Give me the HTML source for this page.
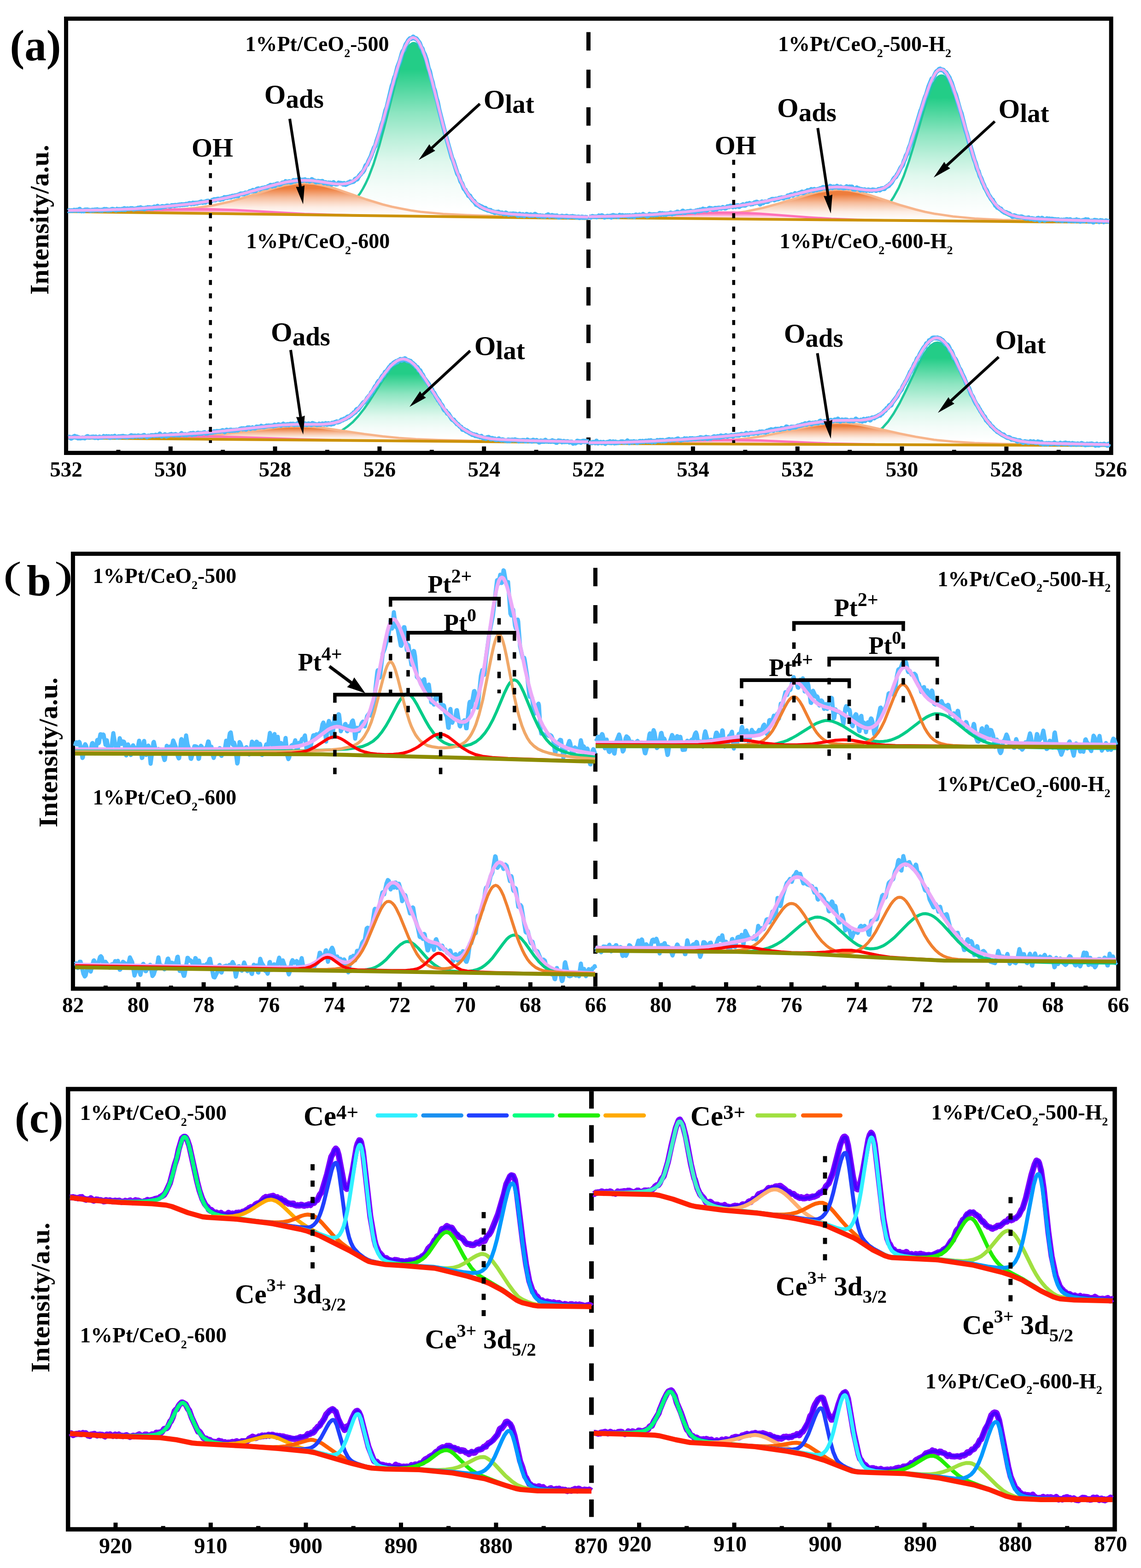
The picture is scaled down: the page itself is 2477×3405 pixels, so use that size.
<!DOCTYPE html><html><head><meta charset="utf-8"><title>XPS spectra</title><style>html,body{margin:0;padding:0;background:#fff;}svg{display:block;}</style></head><body><svg width="2477" height="3405" viewBox="0 0 2477 3405" font-family="'Liberation Serif', 'Times New Roman', serif" font-weight="bold"><defs><linearGradient id="gG" x1="0" y1="0" x2="0" y2="1"><stop offset="0.00" stop-color="#23cd87"/><stop offset="0.15" stop-color="#23cd87"/><stop offset="0.40" stop-color="#8de5c1"/><stop offset="0.55" stop-color="#bdf0db"/><stop offset="0.68" stop-color="#e0f8ee"/><stop offset="0.82" stop-color="#f4fcf9"/><stop offset="0.95" stop-color="#ffffff"/></linearGradient><linearGradient id="gO" x1="0" y1="0" x2="0" y2="1"><stop offset="0.00" stop-color="#ee7d3c"/><stop offset="0.15" stop-color="#ee7d3c"/><stop offset="0.40" stop-color="#f6bb9a"/><stop offset="0.55" stop-color="#fad8c4"/><stop offset="0.68" stop-color="#fdede4"/><stop offset="0.82" stop-color="#fef8f5"/><stop offset="0.95" stop-color="#ffffff"/></linearGradient><linearGradient id="gP" x1="0" y1="0" x2="0" y2="1"><stop offset="0.00" stop-color="#ff78b9"/><stop offset="0.15" stop-color="#ff78b9"/><stop offset="0.40" stop-color="#ffb9db"/><stop offset="0.55" stop-color="#ffd6ea"/><stop offset="0.68" stop-color="#ffecf5"/><stop offset="0.82" stop-color="#fff8fc"/><stop offset="0.95" stop-color="#ffffff"/></linearGradient></defs><rect width="100%" height="100%" fill="#fff"/><rect x="143.5" y="40.5" width="2268.7" height="943.0" fill="none" stroke="#000" stroke-width="9"/>
<rect x="365.8" y="969.5" width="9.0" height="11.5" fill="#000"/>
<rect x="592.6" y="969.5" width="9.0" height="11.5" fill="#000"/>
<rect x="819.4" y="969.5" width="9.0" height="11.5" fill="#000"/>
<rect x="1046.2" y="969.5" width="9.0" height="11.5" fill="#000"/>
<rect x="252.4" y="976.8" width="9.0" height="4.2" fill="#000"/>
<rect x="479.2" y="976.8" width="9.0" height="4.2" fill="#000"/>
<rect x="706.0" y="976.8" width="9.0" height="4.2" fill="#000"/>
<rect x="932.8" y="976.8" width="9.0" height="4.2" fill="#000"/>
<rect x="1159.6" y="976.8" width="9.0" height="4.2" fill="#000"/>
<rect x="1499.9" y="969.5" width="9.0" height="11.5" fill="#000"/>
<rect x="1726.7" y="969.5" width="9.0" height="11.5" fill="#000"/>
<rect x="1953.5" y="969.5" width="9.0" height="11.5" fill="#000"/>
<rect x="2180.3" y="969.5" width="9.0" height="11.5" fill="#000"/>
<rect x="1613.3" y="976.8" width="9.0" height="4.2" fill="#000"/>
<rect x="1840.1" y="976.8" width="9.0" height="4.2" fill="#000"/>
<rect x="2066.9" y="976.8" width="9.0" height="4.2" fill="#000"/>
<rect x="2293.7" y="976.8" width="9.0" height="4.2" fill="#000"/>
<text x="143.5" y="1035.0" font-size="47" text-anchor="middle" >532</text>
<text x="370.3" y="1035.0" font-size="47" text-anchor="middle" >530</text>
<text x="597.1" y="1035.0" font-size="47" text-anchor="middle" >528</text>
<text x="823.9" y="1035.0" font-size="47" text-anchor="middle" >526</text>
<text x="1050.7" y="1035.0" font-size="47" text-anchor="middle" >524</text>
<text x="1277.5" y="1035.0" font-size="47" text-anchor="middle" >522</text>
<text x="1504.4" y="1035.0" font-size="47" text-anchor="middle" >534</text>
<text x="1731.2" y="1035.0" font-size="47" text-anchor="middle" >532</text>
<text x="1958.0" y="1035.0" font-size="47" text-anchor="middle" >530</text>
<text x="2184.8" y="1035.0" font-size="47" text-anchor="middle" >528</text>
<text x="2411.6" y="1035.0" font-size="47" text-anchor="middle" >526</text>
<rect x="1273.0" y="69.7" width="9.0" height="40.0" fill="#000"/>
<rect x="1273.0" y="151.3" width="9.0" height="40.0" fill="#000"/>
<rect x="1273.0" y="232.9" width="9.0" height="40.0" fill="#000"/>
<rect x="1273.0" y="314.5" width="9.0" height="40.0" fill="#000"/>
<rect x="1273.0" y="396.1" width="9.0" height="40.0" fill="#000"/>
<rect x="1273.0" y="477.7" width="9.0" height="40.0" fill="#000"/>
<rect x="1273.0" y="541.9" width="9.0" height="40.0" fill="#000"/>
<rect x="1273.0" y="623.5" width="9.0" height="40.0" fill="#000"/>
<rect x="1273.0" y="705.1" width="9.0" height="40.0" fill="#000"/>
<rect x="1273.0" y="786.7" width="9.0" height="40.0" fill="#000"/>
<rect x="1273.0" y="868.3" width="9.0" height="40.0" fill="#000"/>
<rect x="1273.0" y="949.9" width="9.0" height="29.1" fill="#000"/>
<text transform="translate(105.3,477.2) rotate(-90)" x="0" y="0" font-size="58" text-anchor="middle">Intensity/a.u.</text>
<text x="21.5" y="131.0" font-size="95" text-anchor="start" >(a)</text>
<path d="M148,459 481,462.5 577,463 647,462.5 687,461.5 713,459.5 732,456.5 740,454 748,450.5 756,446 763,441 770,434.5 776,427.5 782,419.5 788,409.5 794,398 800,385 811,356 823,317.5 834,277 859,178.5 866,153.5 872,134.5 879,116 885,104.5 889,98.5 892,96 895,94 898,93.5 901,94 904,96 907,99 911,104.5 918,119 925,138 938,183.5 961,274.5 971,312 981,346 991,375 1000,396.5 1009,414.5 1018,428 1028,440 1039,449.5 1045,453 1052,456.5 1067,461.5 1086,465 1110,467.5 1147,469.5 1277,473 1277,474.5 148,459.5Z" fill="url(#gG)" stroke="none"/>
<path d="M148,459 481,462.5 577,463 647,462.5 687,461.5 713,459.5 732,456.5 740,454 748,450.5 756,446 763,441 770,434.5 776,427.5 782,419.5 788,409.5 794,398 800,385 811,356 823,317.5 834,277 859,178.5 866,153.5 872,134.5 879,116 885,104.5 889,98.5 892,96 895,94 898,93.5 901,94 904,96 907,99 911,104.5 918,119 925,138 938,183.5 961,274.5 971,312 981,346 991,375 1000,396.5 1009,414.5 1018,428 1028,440 1039,449.5 1045,453 1052,456.5 1067,461.5 1086,465 1110,467.5 1147,469.5 1277,473" fill="none" stroke="#1ec99a" stroke-width="5" stroke-linejoin="round" />
<path d="M148,457.5 259,458 329,457.5 382,455.5 425,451.5 463,446 499,438 531,429 593,409 617,402.5 640,398.5 651,397.5 662,397.5 683,399 705,403.5 729,410 795,433 831,444 851,449 871,453 892,457 913,460 962,464.5 1025,467.5 1120,470.5 1277,473.5 1277,474.5 148,459.5Z" fill="url(#gO)" stroke="none"/>
<path d="M148,457.5 259,458 329,457.5 382,455.5 425,451.5 463,446 499,438 531,429 593,409 617,402.5 640,398.5 651,397.5 662,397.5 683,399 705,403.5 729,410 795,433 831,444 851,449 871,453 892,457 913,460 962,464.5 1025,467.5 1120,470.5 1277,473.5" fill="none" stroke="#f7b48a" stroke-width="5" stroke-linejoin="round" />
<path d="M148,459 242,458.5 389,454.5 450,454 510,456 661,464.5 762,467.5 762,467.5 148,459.5Z" fill="url(#gP)" stroke="none"/>
<path d="M148,459 242,458.5 389,454.5 450,454 510,456 661,464.5 762,467.5" fill="none" stroke="#ff72b8" stroke-width="5" stroke-linejoin="round" />
<path d="M148,459.5 1277,474.5" fill="none" stroke="#cc9206" stroke-width="6" stroke-linejoin="round" />
<path d="M148,457.5 149,458 150,457 153,457.5 155,457 156,457.5 158,457.5 161,456 162,457 164,457 166,456 168,456.5 170,458 172,454.5 173,454 177,458.5 178,457.5 180,457 182,458.5 184,456 185,455.5 187,456 188,455.5 190,455.5 193,456.5 195,456.5 197,457.5 200,456 201,457 202,456 203,457 206,455.5 207,455.5 208,456.5 211,455 214,456.5 216,456 218,457 220,456 222,457 225,455 226,454.5 227,456 228,456 230,454.5 231,454.5 232,456 233,456.5 235,455.5 237,456.5 240,455.5 241,456 242,454.5 244,454 246,455 247,454.5 248,455.5 249,455.5 252,456.5 254,454 257,455.5 258,454.5 259,454.5 260,455.5 262,455.5 263,454.5 264,454.5 265,454 267,455.5 268,455 269,453 270,452.5 271,455 272,455.5 274,453.5 276,453.5 277,453 278,454 280,454 284,452.5 285,453 287,452.5 290,454.5 292,453.5 295,453.5 296,453 299,452.5 300,451.5 301,451.5 302,453 304,453 305,450.5 308,453 310,452 313,454 315,453 316,451.5 320,452 321,450.5 322,451 323,450.5 325,450.5 327,452.5 328,452.5 329,451 330,452 331,452.5 332,452.5 333,450 335,449 336,449.5 337,449.5 338,451 339,451.5 342,447.5 343,449.5 344,449.5 345,451 346,449.5 348,451 349,451 351,448.5 352,449 353,448 354,449.5 355,448.5 356,449 357,448.5 359,448.5 362,447 364,447 368,448 370,448 373,446 374,446.5 377,446 379,447 380,445.5 384,446 387,445 389,445.5 390,444.5 391,445.5 394,444 395,444 396,445 397,444.5 400,444 401,444.5 404,443 406,444 411,441.5 414,442 415,443 419,440.5 420,442.5 421,441.5 422,442.5 423,441 424,441.5 426,440.5 428,441.5 431,440 434,440 435,438.5 437,438 438,439.5 439,439.5 440,440 442,439.5 443,438.5 446,439.5 448,437 450,436.5 452,436.5 453,437.5 455,437.5 457,437 458,437.5 461,434.5 464,434 465,433 466,434.5 468,434.5 469,433 474,432 478,433.5 479,433 480,431.5 482,431 484,432.5 485,430.5 486,430.5 487,428.5 488,430 489,429 491,428.5 492,429.5 493,429.5 495,428 497,428.5 499,427 500,427 501,428.5 502,427.5 503,427.5 504,426 505,426.5 506,425.5 507,426.5 508,426.5 511,424.5 513,425.5 516,423.5 517,425.5 519,422.5 523,420.5 524,421.5 526,421.5 527,420.5 528,421.5 529,421 530,421.5 531,419.5 533,418.5 535,419.5 537,418.5 539,418 542,415.5 546,415.5 547,414 548,414 549,413 550,415 551,414 552,414.5 553,413.5 554,414 555,414.5 557,411 559,410 560,411 561,409.5 562,410.5 564,411 569,408.5 573,408 576,407 577,407.5 578,407 579,407.5 580,406.5 581,406.5 582,404.5 584,404.5 587,402 588,402 591,404.5 594,401.5 595,401.5 596,403 597,403.5 600,399.5 602,399 603,399 604,400 606,400.5 609,400 613,397 617,396.5 619,395.5 620,394 623,395.5 628,394 631,396 632,395.5 633,395.5 635,394.5 637,391.5 638,391.5 640,393.5 641,393.5 642,392.5 643,392.5 644,391 646,391 648,392.5 649,391.5 650,391.5 651,389.5 652,391 653,391 654,392 655,391.5 656,392.5 658,390.5 659,391.5 661,391 662,390 665,392.5 666,391.5 667,392 669,391.5 672,393.5 675,392 677,389.5 681,392.5 683,392.5 685,395 686,395.5 689,393.5 690,394 691,393.5 692,395 695,394 697,394.5 699,393.5 700,393.5 703,397.5 707,396 710,398.5 713,397 714,398.5 715,398.5 717,397 719,400 720,400.5 724,396 727,399.5 729,400 733,399.5 735,397 736,397.5 739,397.5 740,398.5 742,398 745,400.5 747,398 748,398.5 749,400 750,401 754,399 755,397 756,396.5 757,397.5 759,397 760,394.5 763,395.5 767,394.5 769,393 771,389 773,388 774,389.5 775,389.5 776,388.5 777,386 781,380 783,378.5 784,376.5 787,374 790,370 794,359.5 795,358.5 797,357.5 798,355.5 800,350 805,340 807,334.5 808,330.5 809,329.5 812,321 815,316.5 818,305 824,287.5 829,269.5 832,262 837,240 840,232.5 851,186 853,181.5 855,172.5 857,166.5 858,165.5 863,145.5 868,132.5 873,114.5 874,112 877,108 881,96.5 885,90.5 886,88 890,83.5 892,83.5 893,84 897,80 900,83.5 902,83 904,84 911,93.5 914,102 917,106 919,113 922,118.5 926,130 930,147.5 933,155 936,169.5 939,179 941,189.5 944,197.5 947,212 950,221.5 953,237 968,296 981,342.5 984,349 993,377.5 995,380.5 996,381 1000,394 1003,398.5 1007,409.5 1009,412 1010,412 1012,416.5 1015,420.5 1017,425 1018,425.5 1020,425 1023,431 1024,431.5 1026,435 1029,436.5 1034,444.5 1035,443.5 1038,446.5 1039,445.5 1040,446 1041,448 1043,450 1044,448 1045,449 1046,449 1049,451 1051,453.5 1053,453.5 1054,452 1058,456.5 1059,456.5 1060,457 1061,456 1062,457 1064,457.5 1065,456.5 1066,458.5 1068,459.5 1071,459.5 1074,462 1077,460.5 1079,461 1082,460 1085,463 1086,462 1087,462.5 1090,462 1092,464 1095,465 1096,465 1098,462 1104,466 1105,465 1106,465.5 1107,464.5 1110,464.5 1111,465.5 1112,464.5 1113,465 1114,464 1115,464.5 1117,464.5 1118,465 1119,464.5 1121,465 1123,467.5 1124,467 1125,468 1127,466.5 1128,464.5 1131,468 1133,467.5 1135,465.5 1138,469 1139,467.5 1141,466.5 1142,466.5 1143,465 1145,465.5 1146,467 1148,468 1150,468.5 1151,466.5 1152,466 1155,468 1156,467 1158,468 1161,465 1162,465 1165,468 1166,467.5 1167,469 1168,469 1169,469.5 1170,468.5 1173,468 1176,470 1178,468.5 1181,470 1182,469.5 1183,470.5 1186,467.5 1187,468 1188,467 1189,467.5 1190,466 1191,467.5 1192,468 1193,470 1194,469 1195,469.5 1196,468.5 1197,468.5 1198,467.5 1199,467.5 1201,469.5 1203,468.5 1204,468.5 1206,470.5 1207,469 1208,469.5 1209,468.5 1211,470 1212,472 1213,472 1214,472 1216,470 1219,470.5 1220,469 1223,470 1224,470 1227,471 1228,469.5 1230,469 1231,470.5 1232,471 1233,472 1234,470.5 1235,471 1236,470.5 1237,471 1239,470 1240,470.5 1243,469.5 1245,471 1248,470.5 1251,472 1252,471.5 1253,472 1254,471 1255,471.5 1256,471 1257,472.5 1258,473 1263,471 1264,471 1265,472.5 1266,471.5 1269,472.5 1271,471.5 1274,472.5 1275,472 1277,471.5" fill="none" stroke="#4cb8f8" stroke-width="10" stroke-linejoin="round" />
<path d="M148,457 225,456 292,453.5 358,448.5 417,442.5 456,436.5 492,429.5 528,420.5 603,399.5 623,395 641,392.5 658,391.5 676,392 692,394 724,399 738,400 745,399.5 752,398.5 758,397 764,394.5 770,391 775,387 781,381 786,375 796,359 806,338 816,311.5 826,280.5 836,245.5 859,160 871,121.5 878,103.5 885,90.5 888,86.5 891,84 894,82 897,81.5 900,82.5 903,84 906,87 910,92.5 917,107 924,126.5 937,172 961,268.5 971,306.5 981,341 990,367.5 999,390 1008,408.5 1018,424.5 1028,436.5 1039,446 1045,450 1052,453.5 1067,458.5 1086,462.5 1111,465 1149,467.5 1277,471.5" fill="none" stroke="#eeaaf5" stroke-width="6" stroke-linejoin="round" />
<path d="M1278,472.5 1628,475 1797,474.5 1840,474 1866,472 1885,469.5 1900,464.5 1908,461 1915,456.5 1922,450.5 1928,444.5 1934,437 1940,428 1951,408 1962,382 1973,350.5 1983,318 2007,234.5 2019,199 2026,182.5 2032,172.5 2035,168.5 2038,166 2041,164.5 2044,164 2047,164.5 2050,166 2056,172.5 2063,185 2070,202 2082,238.5 2113,345.5 2123,375.5 2132,398.5 2140,416 2149,432 2158,444.5 2168,454.5 2179,463 2191,468.5 2205,472.5 2223,475.5 2246,477.5 2282,479 2408,482 2408,483 1278,472.5Z" fill="url(#gG)" stroke="none"/>
<path d="M1278,472.5 1628,475 1797,474.5 1840,474 1866,472 1885,469.5 1900,464.5 1908,461 1915,456.5 1922,450.5 1928,444.5 1934,437 1940,428 1951,408 1962,382 1973,350.5 1983,318 2007,234.5 2019,199 2026,182.5 2032,172.5 2035,168.5 2038,166 2041,164.5 2044,164 2047,164.5 2050,166 2056,172.5 2063,185 2070,202 2082,238.5 2113,345.5 2123,375.5 2132,398.5 2140,416 2149,432 2158,444.5 2168,454.5 2179,463 2191,468.5 2205,472.5 2223,475.5 2246,477.5 2282,479 2408,482" fill="none" stroke="#1ec99a" stroke-width="5" stroke-linejoin="round" />
<path d="M1278,471 1402,471.5 1479,470.5 1534,468.5 1579,465 1618,459.5 1656,451.5 1689,442.5 1753,423 1777,416.5 1800,413 1821,411.5 1842,413 1865,417.5 1889,424 1953,445 1988,455 2008,460 2028,464 2069,470 2116,474.5 2176,477.5 2263,479.5 2408,482 2408,483 1278,472.5Z" fill="url(#gO)" stroke="none"/>
<path d="M1278,471 1402,471.5 1479,470.5 1534,468.5 1579,465 1618,459.5 1656,451.5 1689,442.5 1753,423 1777,416.5 1800,413 1821,411.5 1842,413 1865,417.5 1889,424 1953,445 1988,455 2008,460 2028,464 2069,470 2116,474.5 2176,477.5 2263,479.5 2408,482" fill="none" stroke="#f7b48a" stroke-width="5" stroke-linejoin="round" />
<path d="M1278,472.5 1332,472 1379,470.5 1425,468.5 1530,462.5 1561,461.5 1590,461.5 1619,462.5 1650,464 1756,472 1805,475 1857,477 1919,478.5 1919,478.5 1278,472.5Z" fill="url(#gP)" stroke="none"/>
<path d="M1278,472.5 1332,472 1379,470.5 1425,468.5 1530,462.5 1561,461.5 1590,461.5 1619,462.5 1650,464 1756,472 1805,475 1857,477 1919,478.5" fill="none" stroke="#ff72b8" stroke-width="5" stroke-linejoin="round" />
<path d="M1278,472.5 2408,483" fill="none" stroke="#cc9206" stroke-width="6" stroke-linejoin="round" />
<path d="M1278,470 1283,472 1286,469.5 1290,470.5 1291,471 1294,470.5 1295,471.5 1297,471 1300,468.5 1301,469.5 1302,469.5 1303,470.5 1304,469 1305,469.5 1306,468 1307,468 1310,470 1311,470 1312,472 1313,471 1314,471.5 1315,471 1316,471 1317,469.5 1318,469.5 1319,469 1320,469.5 1321,469.5 1322,471 1325,469 1327,472 1329,470.5 1330,467.5 1331,468.5 1332,467.5 1333,470 1335,470.5 1336,469 1337,468.5 1342,471 1345,467 1347,469 1348,469 1351,467.5 1354,469 1358,468 1360,469 1362,468 1363,468 1364,470 1366,469 1367,468 1370,470 1372,469 1373,468 1374,468 1377,471 1380,466.5 1381,466.5 1385,468.5 1388,466.5 1390,468 1394,467.5 1396,465 1399,467.5 1402,467.5 1405,469.5 1407,469 1410,465 1414,467 1415,466 1416,467 1420,465.5 1421,467 1422,466 1423,466 1424,465.5 1425,466.5 1427,466.5 1432,463 1433,463 1435,466 1438,463.5 1441,466 1442,464 1444,464 1445,466 1446,466 1448,464 1451,464 1452,463.5 1453,464 1454,463.5 1455,463.5 1456,462 1459,465 1460,464.5 1461,463 1463,463 1464,464 1466,462 1469,462 1470,460 1471,460 1472,460.5 1473,462 1477,461.5 1478,462 1479,460.5 1482,458 1483,458 1485,461.5 1487,462 1490,460 1491,459.5 1492,460 1493,459 1494,459.5 1495,459 1496,460 1497,458.5 1499,458 1500,459 1501,458.5 1502,459.5 1504,459.5 1506,459 1509,460.5 1511,457.5 1513,458 1515,456.5 1516,457 1517,458.5 1518,457.5 1519,457 1520,455.5 1521,457.5 1523,457.5 1526,453.5 1529,456 1531,454.5 1532,455 1534,457 1535,456 1536,455.5 1537,454.5 1538,454 1539,452.5 1540,452 1541,453.5 1544,452.5 1545,454 1547,455 1548,453.5 1549,455.5 1550,454 1551,454.5 1552,452 1553,453 1554,452 1555,454.5 1556,454.5 1558,452 1559,451.5 1560,452.5 1561,451.5 1566,452.5 1569,450 1572,451.5 1573,451.5 1574,452.5 1576,452 1577,450.5 1579,448.5 1580,448.5 1581,449.5 1582,448.5 1583,449.5 1584,447.5 1586,447 1587,448 1589,448 1591,449.5 1594,447 1597,449 1599,446.5 1600,447 1602,446 1603,447 1604,449 1605,449 1606,447.5 1607,447.5 1610,445.5 1612,446 1613,444 1616,446 1617,445.5 1618,446 1620,444.5 1621,442.5 1624,443 1626,442.5 1627,441.5 1630,443.5 1632,442.5 1634,443 1638,440 1639,441 1640,441 1642,438.5 1643,438.5 1644,440 1647,440 1650,443.5 1651,443 1653,439 1654,438 1655,439.5 1657,440.5 1658,439 1661,438 1667,438 1670,435 1673,434.5 1676,432.5 1679,432.5 1681,434.5 1682,434 1684,432 1685,433 1686,432 1687,432.5 1689,431.5 1690,432 1691,430.5 1692,431 1693,430 1696,429.5 1697,429 1699,429.5 1700,430.5 1701,430.5 1702,429 1708,428 1710,425 1712,427.5 1715,423.5 1717,423.5 1718,422.5 1720,423 1721,424.5 1725,421.5 1726,420 1729,421.5 1732,421.5 1734,419.5 1737,419 1738,418 1739,418.5 1741,416.5 1743,419 1744,419 1745,417.5 1748,417 1749,416 1752,415 1753,413.5 1755,413.5 1756,415 1760,413 1761,411 1763,411.5 1765,414 1766,414 1768,411 1769,411.5 1770,411.5 1772,412 1773,412.5 1774,411.5 1777,410.5 1778,411 1779,410 1780,411 1781,409 1783,410 1784,409.5 1786,407 1787,406.5 1789,407 1791,408.5 1792,408 1793,408 1794,407 1796,409.5 1798,410 1801,405 1802,404 1804,405 1805,406.5 1807,408 1810,405.5 1812,406.5 1814,406.5 1817,404 1818,406 1820,407.5 1822,407.5 1825,405.5 1828,407.5 1830,407.5 1831,408.5 1834,407 1835,408 1836,406.5 1838,405 1840,407 1842,408 1844,405.5 1845,405.5 1846,407 1847,407 1849,405.5 1850,406 1852,411 1853,411 1855,410.5 1856,411.5 1860,407.5 1862,409.5 1865,409.5 1866,411.5 1868,413 1870,411 1875,413 1877,411.5 1881,414 1885,412 1887,412.5 1888,414 1890,413 1891,413.5 1893,414 1894,412 1900,413 1902,414 1905,412.5 1906,412.5 1907,411 1909,411 1910,413 1911,412.5 1912,411.5 1913,409.5 1915,409.5 1916,410 1917,409 1918,410 1919,409.5 1920,410 1923,406.5 1925,405.5 1927,403.5 1928,404 1930,403 1931,400.5 1932,400.5 1933,398.5 1934,398.5 1936,396 1940,388.5 1942,386 1945,384 1948,378 1949,377.5 1955,365 1960,358 1962,351 1963,348 1964,347 1967,337.5 1968,336.5 1969,334 1970,333.5 1973,322 1977,312 1980,300.5 1986,283 1999,239.5 2000,238 2008,212 2011,205 2016,188 2023,171 2024,171 2026,169.5 2031,158.5 2033,155.5 2036,153.5 2039,150 2040,150.5 2041,149.5 2043,152 2046,151.5 2048,152 2051,157 2052,156.5 2054,157.5 2056,161.5 2059,165.5 2060,168 2061,168.5 2062,172 2066,180.5 2071,197 2075,206 2084,238.5 2087,246 2096,282.5 2099,291 2105,314 2106,315.5 2115,346.5 2118,354 2121,365.5 2123,370.5 2124,371.5 2127,382 2130,387.5 2133,396 2136,402 2138,408 2142,413.5 2146,423 2149,427 2152,432.5 2155,434 2156,437 2159,441.5 2161,446.5 2162,446 2163,447 2165,450.5 2166,451 2167,450 2169,452 2170,453.5 2173,453.5 2176,458.5 2178,459 2180,461 2183,461.5 2184,461 2185,462 2186,462 2187,463.5 2188,463 2190,464.5 2191,464 2198,470.5 2199,470.5 2201,468 2202,468 2203,469.5 2205,469 2207,470.5 2209,471 2210,470.5 2214,471.5 2216,470.5 2218,470.5 2222,472.5 2224,473 2225,474 2227,473.5 2229,474.5 2231,473 2233,472.5 2234,474.5 2235,474.5 2236,475.5 2237,474.5 2238,475 2240,474 2243,476 2244,475 2247,477 2250,476 2252,474 2254,473.5 2255,476.5 2257,479 2258,477 2259,477.5 2262,473.5 2265,475.5 2266,477.5 2268,478.5 2273,474.5 2274,475 2275,476.5 2278,475 2280,476.5 2282,476.5 2283,475.5 2286,476 2287,476 2289,477 2290,476.5 2292,476.5 2293,478 2294,478.5 2295,478.5 2297,476.5 2301,478.5 2304,477.5 2305,479 2306,479.5 2307,479.5 2309,477.5 2311,477.5 2313,478.5 2315,476.5 2317,476.5 2320,480 2321,480 2323,476.5 2324,477 2326,479 2328,478.5 2329,479.5 2330,478.5 2332,478 2333,479.5 2334,480 2337,477 2340,479.5 2342,478 2344,479.5 2345,481 2348,479 2350,480 2351,478.5 2352,478 2353,478.5 2354,480 2355,478 2356,478 2357,476.5 2358,477.5 2360,478.5 2362,477 2364,481 2367,480 2368,480.5 2370,479.5 2372,480.5 2373,482.5 2374,482.5 2376,478 2377,478 2378,479.5 2381,478.5 2382,479.5 2383,479.5 2386,482 2389,478.5 2392,479.5 2393,479 2396,482 2401,479 2403,480.5 2405,480 2407,481 2408,481" fill="none" stroke="#4cb8f8" stroke-width="10" stroke-linejoin="round" />
<path d="M1278,470.5 1353,469 1418,466 1489,460 1576,450.5 1620,444.5 1657,438 1692,430.5 1763,413 1782,409.5 1799,407 1816,406 1833,406.5 1849,408.5 1879,412.5 1892,413.5 1905,412.5 1916,409.5 1922,406.5 1927,403 1932,399 1937,393.5 1947,380 1956,363.5 1965,343.5 1975,316.5 1985,286 2007,215 2019,181.5 2025,168.5 2031,158.5 2034,155 2037,152.5 2040,151 2043,150.5 2046,151.5 2049,153 2052,156 2056,161 2062,172.5 2069,189.5 2081,226.5 2113,339.5 2123,369.5 2132,393 2140,411 2149,427.5 2158,440 2168,451 2179,459 2191,465.5 2206,470 2224,473 2248,475 2285,477 2408,480.5" fill="none" stroke="#eeaaf5" stroke-width="6" stroke-linejoin="round" />
<path d="M186,951 473,953 621,953 654,952.5 678,951.5 696,949.5 712,946.5 727,942 741,935.5 754,926.5 766,916.5 778,903.5 791,887 803,869.5 832,824 846,805.5 854,796.5 862,790.5 870,786.5 877,785.5 884,786.5 892,790.5 900,797 908,806 923,826.5 961,885.5 972,900.5 983,913 993,923 1003,931 1013,937.5 1024,943 1037,948 1051,951.5 1067,954 1087,956 1146,958 1277,960 1277,961 186,951.5Z" fill="url(#gG)" stroke="none"/>
<path d="M186,951 473,953 621,953 654,952.5 678,951.5 696,949.5 712,946.5 727,942 741,935.5 754,926.5 766,916.5 778,903.5 791,887 803,869.5 832,824 846,805.5 854,796.5 862,790.5 870,786.5 877,785.5 884,786.5 892,790.5 900,797 908,806 923,826.5 961,885.5 972,900.5 983,913 993,923 1003,931 1013,937.5 1024,943 1037,948 1051,951.5 1067,954 1087,956 1146,958 1277,960" fill="none" stroke="#1ec99a" stroke-width="5" stroke-linejoin="round" />
<path d="M148,950 321,950.5 372,949.5 415,948 452,946 488,942.5 605,927.5 628,926 650,925.5 674,926.5 700,929 791,942.5 831,947.5 866,951 903,953.5 953,955.5 1017,957 1277,960.5 1277,961 148,951Z" fill="url(#gO)" stroke="none"/>
<path d="M148,950 321,950.5 372,949.5 415,948 452,946 488,942.5 605,927.5 628,926 650,925.5 674,926.5 700,929 791,942.5 831,947.5 866,951 903,953.5 953,955.5 1017,957 1277,960.5" fill="none" stroke="#f7b48a" stroke-width="5" stroke-linejoin="round" />
<path d="M159,951 244,950.5 389,948 450,947.5 511,949 656,954 741,956 741,956.5 159,951Z" fill="url(#gP)" stroke="none"/>
<path d="M159,951 244,950.5 389,948 450,947.5 511,949 656,954 741,956" fill="none" stroke="#ff72b8" stroke-width="5" stroke-linejoin="round" />
<path d="M148,951 1277,961" fill="none" stroke="#cc9206" stroke-width="6" stroke-linejoin="round" />
<path d="M148,949.5 151,949 154,952 155,952 158,949 159,950 160,948.5 161,949 162,947 163,948.5 165,950 166,948.5 167,948.5 169,951.5 170,951.5 171,950 174,951.5 180,950.5 184,951.5 187,949 188,949.5 189,948 190,947.5 191,948 193,950 195,950 198,949 203,948.5 204,949 205,950.5 207,950.5 208,948.5 209,950 210,949.5 211,950 212,950 213,951 216,948.5 217,950 222,950 225,947.5 226,948.5 228,949 230,948.5 231,947.5 234,949 236,948 237,949.5 239,950.5 242,948 243,949 244,948.5 245,949 246,948 247,949 249,947 252,949.5 253,949.5 254,950 255,950 257,948 259,948 260,949.5 261,948.5 262,949 263,947.5 266,948 267,947 268,948.5 269,947.5 270,948.5 271,948 272,949 273,948 276,949.5 278,948.5 279,948.5 280,948 281,948.5 283,947.5 284,946 285,945.5 286,946 287,948.5 288,948.5 289,948.5 290,946.5 294,946.5 296,948 300,946 302,946.5 303,948 306,947 308,948 310,946 313,945 315,947 318,947.5 319,949 322,946.5 325,947.5 327,947 328,945.5 330,945.5 333,945.5 335,946.5 336,946 337,946 338,944.5 339,945.5 340,945 341,946 343,945 344,945.5 345,944 346,943.5 347,942 350,947 351,947.5 353,945.5 356,946 358,943.5 361,947.5 363,945 364,945 366,946 367,944.5 369,943.5 371,944 372,943 374,944.5 377,944 378,945 381,943 384,944.5 390,945 394,941 397,943.5 400,944.5 402,943 405,944.5 407,943.5 409,943.5 410,942.5 412,943 414,941 416,943.5 417,944 418,941.5 419,940.5 420,940.5 422,943 423,942.5 425,943 428,940.5 429,941 430,940 433,941.5 435,940.5 436,941.5 437,941 438,941.5 439,940.5 444,939 447,941.5 448,941 450,941 452,940.5 455,938 456,938 457,939.5 459,939.5 460,938.5 462,939 464,938.5 465,937 466,938 467,937.5 468,938 470,936.5 472,936.5 473,937 477,936.5 478,937 480,936.5 481,935.5 482,935.5 483,934.5 484,935 485,935 486,937 488,938 491,935.5 492,933.5 494,935 496,934.5 498,935.5 499,935.5 500,933.5 501,934 502,933.5 503,934.5 504,935 506,935 507,934 508,934.5 509,934 510,935 511,934 513,933.5 516,934.5 521,931.5 525,930.5 527,932 529,930.5 534,932.5 535,932 536,929.5 538,928.5 539,929.5 541,928.5 543,930 544,931 548,928.5 549,929.5 554,930 555,928.5 556,928.5 557,927 558,927.5 559,927 560,927.5 561,927 562,927.5 564,927.5 565,927.5 567,925 569,927 571,927 572,926.5 573,927.5 574,926.5 576,926.5 577,925.5 579,924.5 580,925.5 583,924.5 586,925 592,924.5 593,925.5 595,924.5 596,922.5 597,924.5 598,923.5 599,924 600,923.5 602,923.5 604,922 605,922 607,923 609,923 610,924 615,920.5 617,922.5 618,922 621,923 622,922 624,921.5 625,922.5 627,923 629,921 631,920.5 632,921 633,921 635,921.5 636,920.5 637,922 638,921 639,922.5 641,922 643,921 645,922 647,919 648,919.5 649,921.5 650,922 652,920.5 654,922 655,921.5 656,920 658,920.5 659,922.5 660,920.5 661,921 662,920 666,922.5 667,922 668,920.5 670,920 672,921.5 673,921 676,922.5 678,919 680,919.5 681,921 682,920.5 684,921 688,922.5 689,922 692,922 693,920.5 696,922 697,921.5 699,921 700,920 702,920.5 704,921.5 707,919.5 709,921.5 710,922 711,920 713,919.5 714,921 715,920.5 717,920.5 718,921.5 719,921.5 721,918.5 722,918.5 724,920.5 726,918.5 727,917 729,917 731,915.5 733,917 736,916 739,914.5 741,912 742,911.5 743,912.5 744,912.5 747,909.5 748,910 749,909 750,909.5 751,908.5 752,908.5 753,906.5 755,905 757,906 761,902.5 762,902.5 764,900 767,898 768,896 769,895.5 770,896 772,894.5 773,890.5 775,888.5 776,890 777,890 789,874 790,874 791,873.5 795,869.5 797,865 798,863.5 799,863.5 801,860 804,857.5 806,852.5 809,849.5 814,840 815,838.5 816,838.5 818,835.5 819,832 822,827.5 825,826 826,825 827,821.5 828,820.5 829,818 831,815.5 832,816 834,813 836,808 839,806.5 845,797.5 848,794.5 849,792.5 852,791 853,791 854,788.5 855,788.5 856,787 857,788.5 860,784.5 862,786.5 863,785.5 864,783.5 865,782.5 867,782.5 869,780 871,780.5 872,782.5 874,781 875,780 876,781 878,780 879,778.5 881,780 882,782 883,781.5 884,783.5 885,782.5 886,783.5 887,783 888,784.5 889,784.5 891,784 894,788 895,788 897,789.5 898,791.5 900,792 903,796.5 904,796.5 906,797.5 908,801 909,804 912,804.5 916,813.5 917,813 919,817 920,820 931,834.5 932,837.5 935,841 937,845 938,846 939,849.5 941,852.5 942,852.5 947,862 950,866 951,869 952,870 953,869.5 956,876 960,880.5 963,888 965,891 968,892 971,898 972,897 974,899 981,910.5 984,912.5 985,911.5 988,916.5 989,916.5 992,921 994,921 998,926 1000,927 1001,927 1004,933 1005,933 1007,932 1012,936.5 1013,935 1014,936.5 1015,936.5 1016,938.5 1017,938 1020,941 1021,940.5 1022,941.5 1023,941.5 1024,943 1025,944 1026,944 1027,943.5 1029,943.5 1031,946 1032,946.5 1034,944.5 1037,947.5 1038,947 1042,949 1045,947 1047,950 1049,951.5 1050,950.5 1052,951 1054,952.5 1055,952.5 1056,952 1057,950 1059,949.5 1060,950.5 1061,949.5 1063,951 1065,953.5 1067,953.5 1068,951.5 1070,952 1071,953 1072,953 1073,953.5 1074,953 1075,954.5 1076,954 1077,955 1080,954.5 1083,952.5 1084,954.5 1089,956 1090,954.5 1091,954.5 1096,956.5 1099,956.5 1101,957.5 1103,955 1104,955 1105,957.5 1106,957.5 1107,957 1108,955.5 1110,956 1112,955 1113,955.5 1115,956 1118,954.5 1121,956 1124,956 1126,958 1128,956.5 1133,957 1134,956 1135,956.5 1136,956 1137,956.5 1138,956 1140,958 1142,958 1144,956.5 1145,955 1150,958 1152,957 1155,958.5 1156,956.5 1157,955.5 1158,955.5 1159,956.5 1162,958 1163,957.5 1164,957.5 1165,956 1168,958.5 1169,958 1170,960.5 1171,960.5 1172,960 1173,957.5 1174,957 1177,959 1179,957.5 1181,959 1184,955.5 1186,958.5 1188,958 1191,959 1192,958.5 1194,958.5 1195,958 1196,959 1199,956.5 1200,958.5 1202,959 1203,958 1204,958 1206,959 1207,961 1208,960.5 1209,961 1212,957 1213,957 1215,958 1217,957.5 1220,960 1222,958.5 1223,959 1224,958 1225,959.5 1226,959 1228,959 1229,959.5 1232,958.5 1236,960.5 1239,959.5 1240,960 1241,959.5 1243,961 1244,963 1245,961.5 1247,961 1249,962.5 1251,961.5 1253,957.5 1254,957.5 1256,960 1257,960 1258,958.5 1259,958.5 1260,959 1261,961 1264,958 1267,957.5 1268,959 1269,959.5 1271,957.5 1272,958 1273,959.5 1275,959.5 1276,958.5 1277,959" fill="none" stroke="#4cb8f8" stroke-width="10" stroke-linejoin="round" />
<path d="M148,949.5 212,949.5 267,948.5 321,946.5 376,944 428,941 474,937 583,925.5 610,923 643,921.5 701,921.5 715,920 727,918 739,914.5 750,909.5 761,902.5 772,893.5 783,882 794,868.5 805,853.5 832,815 846,797 854,789.5 862,783.5 869,780.5 876,779.5 883,781 891,785 899,791.5 907,800.5 922,821.5 949,865 961,883 972,898 983,911 993,921 1003,929.5 1013,936 1024,942 1037,946.5 1051,950 1067,953 1087,954.5 1148,957 1277,959.5" fill="none" stroke="#eeaaf5" stroke-width="6" stroke-linejoin="round" />
<path d="M1286,962.5 1610,963.5 1774,962.5 1812,962 1837,960.5 1857,958 1873,954.5 1881,952 1889,948.5 1896,945 1903,940 1916,929 1928,915.5 1940,898 1953,875.5 1965,851.5 1992,794.5 2006,769 2014,757.5 2021,750 2028,745.5 2032,744.5 2035,744 2038,744.5 2042,745.5 2049,750 2056,757.5 2064,769 2078,795 2115,872.5 2126,892.5 2136,908 2145,920 2154,930 2164,939 2174,946 2186,952 2199,956.5 2214,959.5 2233,962 2255,963.5 2287,964.5 2408,966.5 2408,967.5 1286,963Z" fill="url(#gG)" stroke="none"/>
<path d="M1286,962.5 1610,963.5 1774,962.5 1812,962 1837,960.5 1857,958 1873,954.5 1881,952 1889,948.5 1896,945 1903,940 1916,929 1928,915.5 1940,898 1953,875.5 1965,851.5 1992,794.5 2006,769 2014,757.5 2021,750 2028,745.5 2032,744.5 2035,744 2038,744.5 2042,745.5 2049,750 2056,757.5 2064,769 2078,795 2115,872.5 2126,892.5 2136,908 2145,920 2154,930 2164,939 2174,946 2186,952 2199,956.5 2214,959.5 2233,962 2255,963.5 2287,964.5 2408,966.5" fill="none" stroke="#1ec99a" stroke-width="5" stroke-linejoin="round" />
<path d="M1278,962 1402,961.5 1479,961 1534,959.5 1579,956.5 1618,952.5 1656,947 1689,940.5 1753,926 1777,922 1800,919 1821,918 1842,919 1865,922 1889,927 1953,941.5 1988,948.5 2028,955 2069,959 2116,962 2176,964 2263,965.5 2408,966.5 2408,967.5 1278,963Z" fill="url(#gO)" stroke="none"/>
<path d="M1278,962 1402,961.5 1479,961 1534,959.5 1579,956.5 1618,952.5 1656,947 1689,940.5 1753,926 1777,922 1800,919 1821,918 1842,919 1865,922 1889,927 1953,941.5 1988,948.5 2028,955 2069,959 2116,962 2176,964 2263,965.5 2408,966.5" fill="none" stroke="#f7b48a" stroke-width="5" stroke-linejoin="round" />
<path d="M1280,962.5 1380,961.5 1529,956 1590,955 1651,956.5 1800,963 1900,965 1900,965.5 1280,963Z" fill="url(#gP)" stroke="none"/>
<path d="M1280,962.5 1380,961.5 1529,956 1590,955 1651,956.5 1800,963 1900,965" fill="none" stroke="#ff72b8" stroke-width="5" stroke-linejoin="round" />
<path d="M1278,963 2408,967.5" fill="none" stroke="#cc9206" stroke-width="6" stroke-linejoin="round" />
<path d="M1278,961 1281,961.5 1284,961 1285,962 1286,961 1288,960 1292,962 1295,957.5 1297,960 1298,962.5 1302,960.5 1303,961 1304,960 1306,962 1310,960 1314,963.5 1317,960.5 1319,961 1320,960 1321,961 1323,961.5 1324,958.5 1327,962 1328,960.5 1330,960 1331,959 1334,962.5 1335,960 1336,959.5 1338,962 1340,960.5 1341,960.5 1342,961.5 1344,960.5 1346,960.5 1348,959 1352,959 1353,960.5 1355,960.5 1356,960 1358,961 1362,957 1364,958.5 1366,962 1370,959 1371,959.5 1373,960.5 1374,959 1376,958.5 1377,959.5 1378,959.5 1380,960 1381,959.5 1382,961 1383,960.5 1384,961.5 1385,960 1387,960 1388,958.5 1389,959 1390,958 1391,959.5 1392,959 1393,959.5 1395,958 1396,959 1397,958.5 1398,959.5 1399,958.5 1402,957.5 1403,957.5 1405,959 1406,958.5 1408,957 1410,959 1411,958.5 1412,956.5 1413,956.5 1414,957.5 1415,960 1416,959 1419,958 1421,958 1422,959.5 1425,958 1427,956 1429,956.5 1430,957.5 1432,957.5 1433,956 1434,956.5 1435,956 1436,958 1437,956.5 1438,957 1439,956 1442,958 1444,957.5 1445,956.5 1446,957.5 1447,955.5 1448,955.5 1449,955 1450,955.5 1452,954 1453,954 1455,956.5 1456,956 1457,955 1459,954.5 1463,956 1472,952.5 1474,954.5 1478,956 1479,955.5 1480,954.5 1483,955 1486,952.5 1488,954 1491,952.5 1492,954.5 1493,954.5 1496,953 1497,953.5 1498,952 1499,953.5 1500,953.5 1501,954 1502,952 1503,952 1506,953 1507,952.5 1508,953 1509,952.5 1510,953.5 1513,952 1514,952.5 1515,951.5 1516,952 1517,951.5 1518,952 1520,950 1521,950 1522,950 1523,952 1525,952.5 1526,951 1527,951.5 1528,951 1529,951.5 1533,949 1535,953 1536,953 1538,950 1540,950.5 1543,952 1544,951 1550,948 1551,949.5 1552,949 1553,949.5 1554,948.5 1555,950 1556,950 1558,947.5 1560,948 1561,949.5 1562,950 1564,946.5 1565,946 1566,949 1569,947 1571,948 1572,947 1573,947.5 1574,947 1575,947 1576,945.5 1579,948 1582,946.5 1585,946.5 1588,945 1590,946 1591,947.5 1593,946.5 1594,945 1598,944.5 1599,945.5 1600,945.5 1602,944 1604,945.5 1606,944.5 1607,943.5 1610,942.5 1613,944 1614,943.5 1616,943.5 1617,944.5 1618,942 1619,942 1620,940.5 1623,943 1624,943.5 1625,943.5 1626,942 1627,942 1629,940.5 1631,940.5 1632,941.5 1633,940.5 1636,941.5 1643,939.5 1645,941 1647,940 1648,938.5 1649,937.5 1652,939 1653,937.5 1655,937.5 1657,938.5 1659,938 1662,939 1665,935.5 1666,935.5 1667,937 1669,935.5 1670,934 1671,935 1672,935 1673,934.5 1674,932.5 1676,933 1677,934.5 1679,935 1681,933 1684,931.5 1686,933 1687,932 1689,931.5 1690,932.5 1691,932 1693,933 1694,933 1696,930 1697,930 1700,931.5 1701,930.5 1704,931 1706,929 1707,926.5 1708,927.5 1709,927 1713,930 1714,929.5 1715,930 1718,927 1719,928.5 1721,928 1722,927 1723,928 1726,927 1727,928 1728,927 1729,927 1730,925.5 1731,925.5 1732,924.5 1733,925 1736,924.5 1737,923.5 1739,924 1741,922 1742,923 1744,922 1745,921 1747,920.5 1748,919.5 1749,921.5 1750,921 1751,922 1752,920.5 1753,920.5 1755,919 1757,918 1759,919 1762,921 1764,918.5 1767,919 1769,918 1770,918.5 1771,917.5 1772,918.5 1773,918 1774,918.5 1775,918 1776,919 1778,917 1779,915 1781,914 1783,916.5 1784,916.5 1785,917.5 1786,916.5 1787,917.5 1789,915 1791,915 1792,916.5 1793,915 1794,915.5 1795,914.5 1797,914 1798,914.5 1800,913.5 1803,914 1804,912.5 1808,914.5 1809,913.5 1810,913.5 1812,911.5 1814,911.5 1815,913 1817,913.5 1819,909.5 1821,911.5 1822,914 1823,914 1824,915 1825,914.5 1828,911.5 1830,912 1832,913.5 1833,913 1835,911.5 1839,912 1841,914 1843,913.5 1845,914.5 1847,912.5 1848,912.5 1849,913.5 1850,912.5 1851,914 1852,913.5 1853,914.5 1854,913 1855,913 1858,909.5 1859,911.5 1862,912 1864,913 1867,914 1868,913.5 1869,912 1871,913 1872,915 1875,910 1876,912 1878,914 1882,909.5 1883,910.5 1884,910.5 1886,909 1888,912 1889,912.5 1890,912 1891,909 1893,907 1894,907.5 1895,907 1898,908 1900,905.5 1902,905.5 1903,904.5 1904,904.5 1905,903.5 1906,903.5 1908,901.5 1911,902 1913,898.5 1915,898.5 1920,892 1921,891 1922,891.5 1925,886.5 1927,886 1929,883.5 1930,881 1932,879.5 1933,880.5 1934,880.5 1935,879.5 1937,874.5 1948,860 1951,853.5 1955,848 1957,846.5 1960,839 1963,834 1964,833 1965,830 1968,825.5 1973,815 1976,807.5 1977,807.5 1980,801 1981,801 1984,793 1986,789 1988,787 1991,778.5 1995,774.5 1997,769 2005,755.5 2007,753 2008,753.5 2011,746 2014,745.5 2016,742.5 2017,739.5 2018,739.5 2020,738 2021,738 2022,736.5 2023,736 2024,734 2026,733.5 2027,734.5 2028,733.5 2030,733.5 2032,734.5 2033,733.5 2034,734 2035,733.5 2036,735 2038,735.5 2039,734.5 2042,736 2043,737.5 2046,738.5 2051,745 2052,745.5 2053,747.5 2057,749 2058,751.5 2059,751.5 2060,754.5 2061,755.5 2062,759.5 2063,760 2064,762.5 2065,762 2067,766 2071,777.5 2073,778.5 2075,781.5 2083,801 2084,801.5 2086,805 2088,810.5 2093,820.5 2098,833.5 2104,844 2108,856 2112,862 2115,869.5 2119,877 2123,882 2125,886.5 2127,889 2129,893.5 2131,895.5 2134,901.5 2136,903.5 2137,905.5 2138,905.5 2141,913 2142,913.5 2143,913.5 2145,917 2148,919 2152,925.5 2154,926 2155,927 2159,932 2162,934 2165,937.5 2166,937 2168,938 2169,939.5 2170,939.5 2173,942.5 2174,942.5 2176,944.5 2179,944 2182,947.5 2186,950 2187,950.5 2190,949.5 2191,950 2193,951 2196,954.5 2199,953.5 2200,954.5 2201,954 2202,955 2203,954.5 2206,955.5 2207,957.5 2209,958.5 2211,956.5 2214,956.5 2215,957.5 2217,959 2218,959 2221,961.5 2222,960 2225,958.5 2226,959.5 2227,959 2228,960 2230,959.5 2231,961 2233,961.5 2235,960 2236,960 2237,958.5 2238,960 2240,960.5 2242,959.5 2243,960.5 2244,959 2245,959.5 2248,961.5 2249,961 2250,961.5 2251,960.5 2252,960.5 2253,959 2255,959.5 2258,963 2260,962 2261,960 2264,964.5 2268,963 2270,964 2272,962.5 2275,964.5 2276,962.5 2281,963 2282,964 2285,963 2286,963.5 2288,962.5 2289,961.5 2292,963.5 2294,963.5 2295,964 2296,963.5 2299,964.5 2302,962 2303,963 2304,963 2306,963.5 2307,963 2308,963.5 2309,962.5 2310,964 2311,962.5 2313,961.5 2314,964 2316,963.5 2317,962.5 2318,963 2320,964 2321,962.5 2322,964 2323,964 2325,965.5 2327,964.5 2328,962.5 2330,964.5 2331,964.5 2332,963.5 2333,963.5 2334,964.5 2336,965.5 2339,963.5 2340,963.5 2342,965 2344,965 2348,962.5 2350,963.5 2351,965 2353,964.5 2354,965.5 2355,965 2356,966.5 2357,966.5 2360,964 2362,966 2363,965 2364,965 2365,964 2366,965.5 2367,964 2370,963.5 2371,964.5 2372,964 2373,965 2375,965 2378,967.5 2380,964.5 2381,964 2382,965.5 2383,965.5 2384,967 2386,967 2387,965.5 2389,964.5 2392,965.5 2397,964 2400,966 2403,965.5 2404,967.5 2406,967 2407,964 2408,964" fill="none" stroke="#4cb8f8" stroke-width="10" stroke-linejoin="round" />
<path d="M1278,961.5 1353,960.5 1418,958 1488,954 1567,948 1616,943 1658,938 1694,932 1759,919.5 1786,915.5 1816,913 1869,912.5 1881,911 1892,908.5 1903,904.5 1914,897.5 1925,888.5 1935,877.5 1945,864 1956,846 1967,826 1992,778 2005,756 2013,745.5 2020,739 2027,735 2033,733.5 2039,734.5 2046,739 2052,744.5 2059,754 2066,765 2074,780.5 2110,858 2120,877.5 2129,893.5 2140,910 2151,923.5 2162,934.5 2174,943 2186,949.5 2200,954.5 2215,958 2234,960.5 2257,962 2290,963 2408,965.5" fill="none" stroke="#eeaaf5" stroke-width="6" stroke-linejoin="round" />
<rect x="453.6" y="347.0" width="6.5" height="10.8" fill="#000"/>
<rect x="453.6" y="376.0" width="6.5" height="10.8" fill="#000"/>
<rect x="453.6" y="405.0" width="6.5" height="10.8" fill="#000"/>
<rect x="453.6" y="434.0" width="6.5" height="10.8" fill="#000"/>
<rect x="453.6" y="463.0" width="6.5" height="10.8" fill="#000"/>
<rect x="453.6" y="492.0" width="6.5" height="10.8" fill="#000"/>
<rect x="453.6" y="521.0" width="6.5" height="10.8" fill="#000"/>
<rect x="453.6" y="550.0" width="6.5" height="10.8" fill="#000"/>
<rect x="453.6" y="579.0" width="6.5" height="10.8" fill="#000"/>
<rect x="453.6" y="608.0" width="6.5" height="10.8" fill="#000"/>
<rect x="453.6" y="637.0" width="6.5" height="10.8" fill="#000"/>
<rect x="453.6" y="666.0" width="6.5" height="10.8" fill="#000"/>
<rect x="453.6" y="695.0" width="6.5" height="10.8" fill="#000"/>
<rect x="453.6" y="724.0" width="6.5" height="10.8" fill="#000"/>
<rect x="453.6" y="753.0" width="6.5" height="10.8" fill="#000"/>
<rect x="453.6" y="782.0" width="6.5" height="10.8" fill="#000"/>
<rect x="453.6" y="811.0" width="6.5" height="10.8" fill="#000"/>
<rect x="453.6" y="840.0" width="6.5" height="10.8" fill="#000"/>
<rect x="453.6" y="869.0" width="6.5" height="10.8" fill="#000"/>
<rect x="453.6" y="898.0" width="6.5" height="10.8" fill="#000"/>
<rect x="453.6" y="927.0" width="6.5" height="10.8" fill="#000"/>
<rect x="453.6" y="956.0" width="6.5" height="6.0" fill="#000"/>
<rect x="1589.5" y="347.0" width="6.5" height="10.8" fill="#000"/>
<rect x="1589.5" y="376.0" width="6.5" height="10.8" fill="#000"/>
<rect x="1589.5" y="405.0" width="6.5" height="10.8" fill="#000"/>
<rect x="1589.5" y="434.0" width="6.5" height="10.8" fill="#000"/>
<rect x="1589.5" y="463.0" width="6.5" height="10.8" fill="#000"/>
<rect x="1589.5" y="492.0" width="6.5" height="10.8" fill="#000"/>
<rect x="1589.5" y="521.0" width="6.5" height="10.8" fill="#000"/>
<rect x="1589.5" y="550.0" width="6.5" height="10.8" fill="#000"/>
<rect x="1589.5" y="579.0" width="6.5" height="10.8" fill="#000"/>
<rect x="1589.5" y="608.0" width="6.5" height="10.8" fill="#000"/>
<rect x="1589.5" y="637.0" width="6.5" height="10.8" fill="#000"/>
<rect x="1589.5" y="666.0" width="6.5" height="10.8" fill="#000"/>
<rect x="1589.5" y="695.0" width="6.5" height="10.8" fill="#000"/>
<rect x="1589.5" y="724.0" width="6.5" height="10.8" fill="#000"/>
<rect x="1589.5" y="753.0" width="6.5" height="10.8" fill="#000"/>
<rect x="1589.5" y="782.0" width="6.5" height="10.8" fill="#000"/>
<rect x="1589.5" y="811.0" width="6.5" height="10.8" fill="#000"/>
<rect x="1589.5" y="840.0" width="6.5" height="10.8" fill="#000"/>
<rect x="1589.5" y="869.0" width="6.5" height="10.8" fill="#000"/>
<rect x="1589.5" y="898.0" width="6.5" height="10.8" fill="#000"/>
<rect x="1589.5" y="927.0" width="6.5" height="10.8" fill="#000"/>
<rect x="1589.5" y="956.0" width="6.5" height="6.0" fill="#000"/>
<text x="416.0" y="340.0" font-size="58" text-anchor="start" >OH</text>
<text x="1551.5" y="334.5" font-size="58" text-anchor="start" >OH</text>
<text x="532.5" y="111.0" font-size="46" text-anchor="start" >1%Pt/CeO<tspan font-size="26" dy="12.5">2</tspan><tspan dy="-12.5">-500</tspan></text>
<text x="1689.0" y="111.0" font-size="46" text-anchor="start" >1%Pt/CeO<tspan font-size="26" dy="12.5">2</tspan><tspan dy="-12.5">-500</tspan><tspan>-H</tspan><tspan font-size="26" dy="12.5">2</tspan></text>
<text x="534.4" y="539.0" font-size="46" text-anchor="start" >1%Pt/CeO<tspan font-size="26" dy="12.5">2</tspan><tspan dy="-12.5">-600</tspan></text>
<text x="1692.5" y="539.0" font-size="46" text-anchor="start" >1%Pt/CeO<tspan font-size="26" dy="12.5">2</tspan><tspan dy="-12.5">-600</tspan><tspan>-H</tspan><tspan font-size="26" dy="12.5">2</tspan></text>
<text x="573.8" y="224.5" font-size="60" text-anchor="start" >O<tspan font-size="57" dy="9">ads</tspan></text>
<text x="1049.7" y="235.5" font-size="60" text-anchor="start" >O<tspan font-size="57" dy="9">lat</tspan></text>
<text x="1687.0" y="254.0" font-size="60" text-anchor="start" >O<tspan font-size="57" dy="9">ads</tspan></text>
<text x="2167.5" y="256.0" font-size="60" text-anchor="start" >O<tspan font-size="57" dy="9">lat</tspan></text>
<text x="588.0" y="741.0" font-size="60" text-anchor="start" >O<tspan font-size="57" dy="9">ads</tspan></text>
<text x="1029.7" y="771.0" font-size="60" text-anchor="start" >O<tspan font-size="57" dy="9">lat</tspan></text>
<text x="1701.7" y="744.0" font-size="60" text-anchor="start" >O<tspan font-size="57" dy="9">ads</tspan></text>
<text x="2160.3" y="758.0" font-size="60" text-anchor="start" >O<tspan font-size="57" dy="9">lat</tspan></text>
<line x1="629.0" y1="258.0" x2="652.1" y2="406.1" stroke="#000" stroke-width="6"/>
<polygon points="658.0,443.6 642.4,405.5 652.1,406.1 661.2,402.6" fill="#000"/>
<line x1="1041.8" y1="225.5" x2="937.0" y2="321.6" stroke="#000" stroke-width="6"/>
<polygon points="909.0,347.3 932.1,313.3 937.0,321.6 944.9,327.3" fill="#000"/>
<line x1="1775.3" y1="278.0" x2="1797.9" y2="426.0" stroke="#000" stroke-width="6"/>
<polygon points="1803.6,463.6 1788.2,425.5 1797.9,426.0 1807.0,422.6" fill="#000"/>
<line x1="2159.6" y1="263.6" x2="2054.9" y2="359.8" stroke="#000" stroke-width="6"/>
<polygon points="2026.9,385.5 2049.9,351.4 2054.9,359.8 2062.8,365.4" fill="#000"/>
<line x1="631.0" y1="760.0" x2="652.6" y2="906.0" stroke="#000" stroke-width="6"/>
<polygon points="658.2,943.6 642.9,905.4 652.6,906.0 661.7,902.6" fill="#000"/>
<line x1="1020.7" y1="761.8" x2="916.9" y2="857.8" stroke="#000" stroke-width="6"/>
<polygon points="889.0,883.6 911.9,849.5 916.9,857.8 924.8,863.4" fill="#000"/>
<line x1="1774.5" y1="767.0" x2="1797.7" y2="915.2" stroke="#000" stroke-width="6"/>
<polygon points="1803.6,952.7 1788.0,914.7 1797.7,915.2 1806.8,911.7" fill="#000"/>
<line x1="2168.0" y1="775.3" x2="2064.0" y2="870.7" stroke="#000" stroke-width="6"/>
<polygon points="2036.0,896.4 2059.1,862.4 2064.0,870.7 2071.9,876.4" fill="#000"/>
<rect x="158.4" y="1202.5" width="2269.3" height="944.5" fill="none" stroke="#000" stroke-width="9"/>
<rect x="295.8" y="2133.0" width="9.0" height="11.5" fill="#000"/>
<rect x="437.6" y="2133.0" width="9.0" height="11.5" fill="#000"/>
<rect x="579.5" y="2133.0" width="9.0" height="11.5" fill="#000"/>
<rect x="721.3" y="2133.0" width="9.0" height="11.5" fill="#000"/>
<rect x="863.2" y="2133.0" width="9.0" height="11.5" fill="#000"/>
<rect x="1005.1" y="2133.0" width="9.0" height="11.5" fill="#000"/>
<rect x="1146.9" y="2133.0" width="9.0" height="11.5" fill="#000"/>
<rect x="224.8" y="2140.3" width="9.0" height="4.2" fill="#000"/>
<rect x="366.7" y="2140.3" width="9.0" height="4.2" fill="#000"/>
<rect x="508.6" y="2140.3" width="9.0" height="4.2" fill="#000"/>
<rect x="650.4" y="2140.3" width="9.0" height="4.2" fill="#000"/>
<rect x="792.3" y="2140.3" width="9.0" height="4.2" fill="#000"/>
<rect x="934.1" y="2140.3" width="9.0" height="4.2" fill="#000"/>
<rect x="1076.0" y="2140.3" width="9.0" height="4.2" fill="#000"/>
<rect x="1217.9" y="2140.3" width="9.0" height="4.2" fill="#000"/>
<rect x="1429.9" y="2133.0" width="9.0" height="11.5" fill="#000"/>
<rect x="1571.8" y="2133.0" width="9.0" height="11.5" fill="#000"/>
<rect x="1713.7" y="2133.0" width="9.0" height="11.5" fill="#000"/>
<rect x="1855.6" y="2133.0" width="9.0" height="11.5" fill="#000"/>
<rect x="1997.5" y="2133.0" width="9.0" height="11.5" fill="#000"/>
<rect x="2139.4" y="2133.0" width="9.0" height="11.5" fill="#000"/>
<rect x="2281.3" y="2133.0" width="9.0" height="11.5" fill="#000"/>
<rect x="1500.8" y="2140.3" width="9.0" height="4.2" fill="#000"/>
<rect x="1642.8" y="2140.3" width="9.0" height="4.2" fill="#000"/>
<rect x="1784.7" y="2140.3" width="9.0" height="4.2" fill="#000"/>
<rect x="1926.6" y="2140.3" width="9.0" height="4.2" fill="#000"/>
<rect x="2068.4" y="2140.3" width="9.0" height="4.2" fill="#000"/>
<rect x="2210.3" y="2140.3" width="9.0" height="4.2" fill="#000"/>
<rect x="2352.2" y="2140.3" width="9.0" height="4.2" fill="#000"/>
<text x="158.4" y="2198.0" font-size="47" text-anchor="middle" >82</text>
<text x="300.3" y="2198.0" font-size="47" text-anchor="middle" >80</text>
<text x="442.1" y="2198.0" font-size="47" text-anchor="middle" >78</text>
<text x="584.0" y="2198.0" font-size="47" text-anchor="middle" >76</text>
<text x="725.8" y="2198.0" font-size="47" text-anchor="middle" >74</text>
<text x="867.7" y="2198.0" font-size="47" text-anchor="middle" >72</text>
<text x="1009.6" y="2198.0" font-size="47" text-anchor="middle" >70</text>
<text x="1151.4" y="2198.0" font-size="47" text-anchor="middle" >68</text>
<text x="1293.3" y="2198.0" font-size="47" text-anchor="middle" >66</text>
<text x="1434.4" y="2198.0" font-size="47" text-anchor="middle" >80</text>
<text x="1576.3" y="2198.0" font-size="47" text-anchor="middle" >78</text>
<text x="1718.2" y="2198.0" font-size="47" text-anchor="middle" >76</text>
<text x="1860.1" y="2198.0" font-size="47" text-anchor="middle" >74</text>
<text x="2002.0" y="2198.0" font-size="47" text-anchor="middle" >72</text>
<text x="2143.9" y="2198.0" font-size="47" text-anchor="middle" >70</text>
<text x="2285.8" y="2198.0" font-size="47" text-anchor="middle" >68</text>
<text x="2427.7" y="2198.0" font-size="47" text-anchor="middle" >66</text>
<rect x="1288.0" y="1233.1" width="9.0" height="40.0" fill="#000"/>
<rect x="1288.0" y="1314.0" width="9.0" height="40.0" fill="#000"/>
<rect x="1288.0" y="1395.2" width="9.0" height="40.0" fill="#000"/>
<rect x="1288.0" y="1476.9" width="9.0" height="40.0" fill="#000"/>
<rect x="1288.0" y="1558.5" width="9.0" height="40.0" fill="#000"/>
<rect x="1288.0" y="1635.7" width="9.0" height="40.0" fill="#000"/>
<rect x="1288.0" y="1705.5" width="9.0" height="40.0" fill="#000"/>
<rect x="1288.0" y="1787.3" width="9.0" height="40.0" fill="#000"/>
<rect x="1288.0" y="1869.0" width="9.0" height="40.0" fill="#000"/>
<rect x="1288.0" y="1951.0" width="9.0" height="40.0" fill="#000"/>
<rect x="1288.0" y="2031.0" width="9.0" height="40.0" fill="#000"/>
<rect x="1288.0" y="2112.7" width="9.0" height="29.8" fill="#000"/>
<text transform="translate(124.3,1634.0) rotate(-90)" x="0" y="0" font-size="58" text-anchor="middle">Intensity/a.u.</text>
<text transform="translate(6.8,1277) scale(1.45,1)" font-size="83" font-weight="normal">(</text>
<text x="58.0" y="1292.5" font-size="95" text-anchor="start" >b</text>
<text transform="translate(118,1277) scale(1.45,1)" font-size="83" font-weight="normal">)</text>
<path d="M163,1620 165,1612.5 166,1612 169,1616.5 172,1611 173,1612.5 179,1646 180,1644.5 183,1620.5 185,1616 187,1619.5 191,1635.5 196,1630.5 200,1614 201,1613.5 207,1636 211,1607 212,1606.5 214,1614 215,1612.5 217,1599 218,1594.5 219,1594.5 221,1600 222,1600 224,1595 225,1596 229,1617.5 232,1607.5 235,1626.5 237,1631.5 240,1628 242,1623 246,1592 250,1617 253,1625.5 255,1628 256,1627 260,1603 264,1615.5 267,1610 269,1610.5 270,1613 274,1640.5 278,1616.5 284,1639.5 288,1619.5 289,1618.5 294,1628 297,1629 299,1624 302,1608.5 308,1646 309,1645.5 312,1610.5 313,1609 315,1630.5 317,1639.5 322,1619 323,1621 327,1658.5 333,1612.5 334,1611 339,1634 340,1635.5 341,1635 344,1626.5 347,1636.5 348,1636.5 351,1628.5 357,1650.5 358,1649.5 362,1619.5 365,1628 368,1621.5 369,1621 371,1626.5 372,1626 376,1608 382,1623 386,1642.5 388,1647 389,1646 393,1607.5 394,1605 395,1607.5 399,1631.5 400,1632 404,1597 407,1616 410,1625 414,1647.5 415,1648 416,1645 422,1620.5 424,1620.5 427,1621.5 431,1648 432,1647.5 436,1619.5 438,1621.5 441,1630 442,1631.5 443,1631 445,1626.5 449,1621.5 452,1610 453,1610.5 456,1624 457,1624.5 459,1621.5 462,1640 464,1646 469,1630 470,1629 471,1630 473,1636 477,1624.5 480,1640.5 481,1641.5 484,1629.5 485,1629.5 487,1634 491,1608.5 494,1625.5 495,1624.5 498,1597.5 499,1592.5 501,1590.5 505,1616.5 506,1617.5 508,1612.5 510,1618 515,1658 516,1655.5 520,1611.5 522,1614.5 528,1633 529,1634 530,1633 533,1624 535,1622.5 537,1625.5 539,1634.5 541,1638.5 543,1635 547,1610.5 548,1611.5 551,1624 553,1625.5 557,1610.5 558,1611.5 561,1626 564,1615 565,1617 567,1634 568,1639 569,1639.5 571,1631.5 575,1626 578,1616.5 579,1616 581,1620 582,1618.5 586,1591.5 588,1598.5 592,1624 596,1594 599,1627.5 600,1628.5 603,1600 606,1628 607,1630.5 610,1613.5 614,1634.5 616,1629.5 620,1602.5 624,1642 626,1648.5 628,1644.5 632,1620 634,1618 637,1618 638,1617 641,1607.5 645,1635 649,1613 652,1616 655,1606.5 656,1604.5 658,1605 659,1604 662,1597 666,1632 667,1631 669,1617 670,1616 673,1626.5 680,1597 681,1596.5 683,1598.5 684,1598 687,1594.5 690,1599 691,1599 694,1592 697,1589 700,1573 702,1569 704,1575.5 708,1610.5 712,1573 714,1565.5 716,1570 721,1601 722,1599.5 726,1558 729,1571 730,1572 733,1562.5 735,1551 736,1551.5 737,1558.5 740,1588 743,1581 744,1580.5 746,1581.5 747,1580 749,1572.5 750,1572 753,1587 754,1588 757,1577 758,1577 760,1580.5 761,1579.5 764,1567 766,1564.5 768,1573 771,1604 775,1580.5 778,1587.5 779,1587.5 785,1571 788,1567 792,1577.5 797,1555 802,1548 805,1554 806,1554 807,1551 813,1514.5 819,1459.5 820,1455.5 823,1470.5 824,1471.5 825,1468.5 831,1419 835,1409 844,1376 848,1347.5 851,1365 852,1362 855,1329.5 859,1360.5 860,1362 861,1361.5 862,1362.5 863,1364.5 870,1402 871,1402.5 872,1400.5 876,1366 877,1362 878,1362 880,1372.5 883,1411.5 884,1412 886,1400.5 887,1401.5 893,1443.5 894,1442 897,1417 898,1413.5 899,1414 901,1424.5 905,1470 910,1475.5 914,1486 915,1486.5 919,1477 921,1475 924,1494.5 926,1500 931,1486.5 936,1525 937,1525.5 939,1523 942,1530 946,1512.5 947,1512 950,1517.5 953,1515.5 955,1517.5 960,1539.5 963,1531.5 964,1533 967,1550 970,1556 973,1580 974,1580.5 977,1542 978,1539.5 980,1561 982,1569.5 985,1560 987,1561 988,1559.5 991,1542.5 992,1542 998,1576.5 999,1577.5 1002,1568 1003,1567.5 1005,1568.5 1006,1568 1008,1564 1010,1569 1012,1581.5 1013,1581.5 1019,1527 1020,1524 1023,1535.5 1029,1501 1030,1500.5 1031,1503.5 1036,1535.5 1037,1536.5 1044,1467.5 1047,1455 1048,1456 1050,1465.5 1051,1465.5 1052,1460 1055,1428.5 1062,1377.5 1070,1337 1079,1260 1080,1259.5 1082,1267.5 1086,1248 1089,1266 1090,1264.5 1093,1238.5 1094,1239.5 1099,1268 1100,1269 1102,1264 1103,1264 1108,1332.5 1110,1336.5 1113,1324.5 1114,1324 1118,1358.5 1120,1365 1121,1364 1124,1345.5 1125,1350 1129,1403.5 1135,1429.5 1136,1430 1137,1428.5 1138,1428.5 1139,1432.5 1145,1472.5 1149,1510 1150,1513 1153,1512.5 1155,1515 1159,1548.5 1160,1550 1163,1532 1164,1532 1166,1537.5 1167,1537 1169,1528 1170,1531.5 1173,1581 1175,1593 1177,1592 1181,1596.5 1183,1597.5 1187,1594 1191,1598 1194,1596 1197,1598 1201,1607.5 1205,1634 1206,1634 1209,1622 1214,1609.5 1216,1606.5 1218,1607 1223,1645.5 1227,1630 1232,1620.5 1236,1609 1238,1614 1243,1640.5 1244,1639.5 1248,1623 1254,1627.5 1257,1631 1261,1607.5 1265,1625 1267,1620.5 1268,1622 1271,1643.5 1272,1643.5 1275,1625.5 1276,1627.5 1281,1659.5 1282,1660 1283,1655 1285,1637 1287,1628.5 1288,1627 1289,1627.5 1292,1637" fill="none" stroke="#50bbff" stroke-width="9" stroke-linejoin="round" />
<path d="M163,1627 351,1627 478,1626.5 566,1625.5 622,1623 637,1622 649,1620 659,1617.5 669,1614 677,1610 685,1605 713,1584 719,1581 725,1579 731,1578 737,1578.5 757,1585 764,1586.5 770,1586.5 776,1585 780,1583 784,1580 791,1571 798,1557.5 804,1541 810,1520.5 817,1490.5 835,1397.5 841,1370.5 845,1357 848,1350 851,1346 854,1344.5 857,1345.5 860,1348.5 864,1355 868,1363.5 878,1389.5 898,1447.5 906,1469 915,1489 920,1498.5 925,1506.5 932,1515.5 940,1523.5 985,1560.5 992,1564.5 999,1567.5 1005,1568 1010,1567 1014,1564.5 1018,1561 1022,1555.5 1025,1550 1032,1533.5 1039,1509 1045,1482.5 1052,1443.5 1070,1323.5 1076,1288.5 1080,1271 1083,1261.5 1086,1256 1089,1254 1091,1254.5 1093,1256 1097,1263.5 1101,1275 1106,1293 1116,1336.5 1140,1453.5 1147,1483.5 1153,1506.5 1159,1526.5 1166,1547 1172,1562 1179,1576.5 1188,1591 1197,1602.5 1207,1611.5 1218,1618.5 1231,1624.5 1247,1629.5 1267,1633.5 1292,1637.5" fill="none" stroke="#ebaaf8" stroke-width="8" stroke-linejoin="round" />
<path d="M163,1631 452,1631.5 612,1630.5 666,1630 729,1628 754,1626.5 773,1624 787,1621 799,1616 810,1609.5 820,1600.5 829,1589.5 838,1576 846,1562 863,1529.5 870,1518 874,1513 877,1510 881,1507.5 884,1507 887,1507.5 891,1510 894,1513 898,1518 905,1529.5 923,1563.5 932,1579 942,1593 952,1603.5 958,1608.5 964,1612.5 971,1615.5 978,1618 986,1619.5 994,1620.5 1002,1620.5 1010,1619.5 1022,1616.5 1033,1611 1043,1603 1053,1591.5 1061,1579.5 1070,1563 1078,1545.5 1095,1505 1102,1490.5 1106,1484 1110,1479.5 1114,1477 1117,1476.5 1120,1477.5 1123,1479.5 1126,1483 1130,1489 1137,1503.5 1158,1555 1169,1578.5 1175,1589.5 1181,1599 1187,1607 1194,1614.5 1201,1620.5 1209,1626 1218,1630 1228,1633.5 1240,1637 1254,1639.5 1292,1644" fill="none" stroke="#00cc88" stroke-width="6.5" stroke-linejoin="round" />
<path d="M163,1632.5 466,1633 620,1632 671,1630.5 717,1628.5 741,1626 759,1622 766,1620 772,1617 777,1614 782,1610 787,1604.5 791,1599 799,1585 806,1568 813,1546 832,1472 837,1455 840,1447 843,1441 846,1438 848,1437.5 850,1438 853,1442 856,1448.5 859,1457 864,1474.5 879,1534 889,1567 893,1577.5 898,1588 902,1595.5 907,1602.5 913,1609.5 920,1614.5 928,1619 938,1621.5 951,1623.5 965,1624 979,1623 991,1620.5 998,1618 1004,1615 1010,1611 1015,1606 1020,1599.5 1024,1593 1029,1583 1033,1573.5 1040,1551.5 1048,1520 1067,1424.5 1072,1402 1075,1391.5 1078,1383.5 1081,1379 1083,1377.5 1084,1378 1086,1379 1089,1384.5 1092,1393 1095,1404 1100,1427 1117,1515 1123,1541.5 1128,1560 1133,1576 1139,1591 1145,1603 1151,1612 1159,1620 1168,1626.5 1179,1631.5 1192,1635.5 1210,1639.5 1232,1642.5 1259,1645.5 1292,1648" fill="none" stroke="#f0a868" stroke-width="6.5" stroke-linejoin="round" />
<path d="M163,1636.5 529,1637 601,1636.5 634,1635.5 654,1633.5 662,1631.5 670,1629 684,1622 712,1604 720,1601 727,1600 733,1601 740,1604 747,1608 764,1619.5 773,1625 782,1629.5 792,1633 804,1636 818,1637.5 836,1638.5 854,1638 865,1637 875,1635.5 884,1633 892,1630 900,1626 908,1621.5 932,1604 940,1598.5 948,1595 956,1594 964,1595.5 973,1600 981,1606 1003,1623.5 1018,1632.5 1032,1638.5 1048,1642.5 1069,1645 1103,1647 1292,1653.5" fill="none" stroke="#ff0000" stroke-width="6.5" stroke-linejoin="round" />
<path d="M163,1636.5 700,1638 1000,1645.5 1292,1654" fill="none" stroke="#8c8c00" stroke-width="8.5" stroke-linejoin="round" />
<path d="M1293,1610 1296,1607 1298,1600 1299,1600 1302,1612 1303,1611.5 1306,1596 1307,1594 1308,1595 1310,1602.5 1313,1625 1316,1606.5 1317,1606 1320,1626.5 1322,1632.5 1323,1633 1324,1631.5 1326,1621.5 1328,1617.5 1330,1621 1333,1635.5 1334,1636.5 1338,1610 1344,1595 1346,1601 1352,1632 1354,1629 1358,1603.5 1360,1599 1364,1602.5 1369,1615 1373,1611 1376,1615 1379,1616 1382,1610.5 1384,1609 1389,1614.5 1391,1614 1393,1612.5 1394,1613 1397,1621 1400,1635.5 1401,1636 1407,1613.5 1410,1594.5 1411,1592.5 1414,1610.5 1415,1610 1417,1593 1419,1585.5 1421,1591 1426,1624.5 1428,1622.5 1430,1617.5 1435,1592 1436,1591.5 1439,1604.5 1440,1605.5 1442,1604 1443,1606 1449,1639.5 1450,1638.5 1454,1611 1459,1596 1461,1599.5 1463,1608 1465,1610.5 1467,1608 1470,1598.5 1471,1599 1474,1610 1477,1600 1482,1628.5 1487,1628 1491,1610 1492,1608.5 1494,1615 1495,1617 1496,1616.5 1500,1608 1502,1606 1505,1605.5 1509,1593 1511,1590.5 1513,1596 1516,1618.5 1517,1618.5 1520,1610 1526,1621.5 1529,1596 1531,1588 1537,1611 1540,1614 1543,1606.5 1544,1606.5 1548,1620.5 1550,1615 1554,1593.5 1555,1591 1556,1591 1558,1595 1561,1613.5 1562,1616 1563,1616 1565,1610 1568,1586 1569,1587.5 1571,1611 1573,1621.5 1575,1615.5 1576,1615.5 1578,1620.5 1579,1620 1583,1598 1586,1596 1589,1589 1593,1625.5 1596,1605.5 1597,1604 1600,1617.5 1603,1596.5 1604,1593.5 1606,1598 1607,1597.5 1610,1580 1611,1578.5 1617,1607.5 1621,1586 1625,1610.5 1627,1606.5 1632,1585 1635,1590 1638,1591 1642,1595.5 1648,1585 1650,1585.5 1652,1588.5 1653,1587.5 1657,1576 1659,1573.5 1665,1594 1666,1594.5 1670,1564 1671,1563.5 1673,1572.5 1674,1573 1680,1554 1684,1567 1687,1550.5 1688,1549.5 1690,1560 1691,1560.5 1695,1528 1696,1528.5 1697,1531 1698,1531 1699,1528.5 1705,1503 1708,1509.5 1709,1509 1712,1497 1713,1496.5 1715,1498.5 1716,1497.5 1722,1471.5 1723,1470.5 1726,1479.5 1730,1485.5 1732,1493 1733,1493.5 1736,1477.5 1737,1476 1740,1484.5 1743,1473 1747,1501.5 1748,1501 1750,1489.5 1753,1481.5 1755,1488.5 1760,1526 1761,1526.5 1765,1500 1771,1513 1772,1513.5 1774,1512.5 1775,1514 1778,1530.5 1779,1532 1782,1522 1783,1521 1785,1523 1789,1539.5 1792,1529 1793,1529 1796,1539.5 1800,1523.5 1805,1515.5 1806,1516 1810,1560 1811,1559.5 1814,1540.5 1817,1545.5 1821,1545.5 1827,1550.5 1831,1572.5 1835,1538.5 1837,1533.5 1839,1535 1841,1540.5 1842,1542 1844,1541 1845,1544 1848,1568 1849,1573.5 1851,1577 1856,1554 1858,1551 1859,1551.5 1862,1565.5 1865,1587.5 1866,1588 1869,1555.5 1870,1554.5 1873,1580 1874,1580 1876,1569.5 1877,1571 1880,1590 1884,1568.5 1887,1574 1890,1562 1891,1560 1892,1561 1894,1567 1898,1594.5 1901,1586 1911,1537 1912,1536.5 1915,1547 1916,1548 1918,1546.5 1925,1529.5 1929,1506.5 1930,1505.5 1932,1508 1933,1507.5 1936,1502 1940,1509 1942,1509 1947,1468.5 1950,1454.5 1951,1453.5 1953,1455 1954,1454 1959,1440.5 1961,1440.5 1964,1445.5 1967,1438 1971,1458 1972,1459.5 1974,1456.5 1975,1457 1979,1465 1985,1463 1988,1466 1992,1481 1995,1485 2000,1502.5 2002,1502.5 2005,1492.5 2006,1492 2009,1508 2010,1509 2013,1499 2019,1515.5 2021,1510.5 2023,1499.5 2024,1501 2028,1528.5 2031,1530 2037,1526 2041,1527 2044,1522.5 2048,1532 2049,1532.5 2051,1532 2055,1540.5 2058,1530.5 2059,1531.5 2063,1550.5 2066,1551 2071,1549 2072,1549.5 2075,1561 2076,1561.5 2077,1557.5 2079,1543.5 2080,1544 2084,1571 2087,1571.5 2093,1577 2096,1569.5 2097,1568 2098,1568.5 2105,1590.5 2110,1589.5 2114,1572 2115,1573.5 2119,1602.5 2122,1610 2124,1610.5 2125,1609 2127,1604.5 2131,1582.5 2132,1581.5 2136,1609.5 2138,1603.5 2142,1577.5 2143,1579 2146,1603.5 2150,1585 2152,1585.5 2156,1597 2160,1622 2164,1606 2167,1614.5 2170,1631.5 2172,1635.5 2174,1632 2178,1610 2181,1606.5 2185,1595 2187,1599 2192,1618 2194,1618.5 2198,1616 2201,1624 2202,1624 2206,1605 2212,1622 2213,1623.5 2216,1623.5 2219,1628 2221,1625.5 2226,1612 2227,1612 2229,1617 2230,1617 2236,1592.5 2238,1599.5 2241,1620 2244,1615.5 2247,1617 2251,1594 2252,1595 2254,1605.5 2256,1608 2261,1602 2265,1586.5 2272,1626.5 2273,1626.5 2274,1624.5 2279,1608.5 2280,1609 2285,1623.5 2287,1614 2289,1592.5 2290,1590.5 2294,1616.5 2296,1622 2300,1627.5 2304,1639 2311,1621 2314,1621 2317,1625.5 2320,1613.5 2322,1610 2325,1618 2331,1641 2336,1614.5 2341,1618 2345,1632 2346,1632 2349,1620 2352,1632.5 2356,1606.5 2357,1605.5 2360,1613 2363,1615 2366,1625.5 2369,1631 2374,1597.5 2376,1600.5 2380,1617.5 2381,1618 2387,1598 2392,1630 2394,1626 2398,1623 2401,1613.5 2405,1628.5 2408,1618 2409,1618 2411,1627.5 2412,1628.5 2415,1609 2417,1604 2419,1605.5 2423,1617.5" fill="none" stroke="#50bbff" stroke-width="9" stroke-linejoin="round" />
<path d="M1293,1612.5 1451,1612 1517,1611 1535,1610 1551,1608 1602,1599.5 1614,1598.5 1637,1598 1649,1596 1656,1593 1662,1589 1668,1583.5 1674,1576 1680,1566.5 1686,1555 1706,1509.5 1713,1495.5 1717,1489.5 1721,1485 1724,1483 1728,1482 1733,1483 1739,1488 1763,1518 1769,1523.5 1776,1529 1786,1533.5 1809,1540 1822,1545.5 1835,1553.5 1861,1572 1872,1578 1877,1580 1882,1581 1886,1581 1890,1580.5 1896,1578 1902,1573.5 1908,1566.5 1913,1558 1918,1548 1924,1534 1942,1483.5 1949,1466 1953,1458.5 1957,1453 1960,1450 1964,1449 1966,1449 1969,1450.5 1975,1457 1981,1466 1994,1490 2001,1501.5 2008,1511 2016,1519 2025,1525 2046,1536 2058,1544 2070,1553 2099,1577.5 2114,1588.5 2128,1596.5 2142,1602.5 2155,1606.5 2170,1610 2187,1612 2208,1613.5 2281,1615.5 2423,1617" fill="none" stroke="#ebaaf8" stroke-width="8" stroke-linejoin="round" />
<path d="M1293,1621.5 1584,1621.5 1635,1620.5 1665,1618.5 1677,1617 1688,1614.5 1699,1611.5 1709,1608 1719,1603 1729,1597.5 1761,1577.5 1772,1571 1784,1566.5 1790,1565 1795,1564.5 1800,1565 1806,1566 1818,1570.5 1829,1576 1861,1596 1871,1601 1880,1605 1890,1608 1899,1609.5 1909,1610.5 1918,1610 1926,1609 1934,1607 1942,1604 1951,1600 1960,1594.5 1969,1588.5 1999,1565.5 2011,1557.5 2018,1554 2024,1551.5 2030,1550 2035,1550 2041,1550.5 2047,1552 2053,1554 2060,1558 2072,1566.5 2104,1592 2114,1598.5 2124,1604.5 2133,1609 2142,1612.5 2152,1615.5 2162,1618 2174,1620 2188,1621.5 2224,1623 2297,1624.5 2423,1625.5" fill="none" stroke="#00cc88" stroke-width="6.5" stroke-linejoin="round" />
<path d="M1293,1618.5 1472,1619 1568,1618.5 1617,1617.5 1631,1616 1641,1614.5 1650,1611.5 1657,1608 1664,1602.5 1671,1595 1677,1587 1684,1575 1703,1537 1710,1524.5 1714,1519 1717,1516 1720,1514 1723,1513 1726,1513.5 1729,1515 1732,1518 1736,1523 1742,1533 1759,1567.5 1768,1583.5 1773,1591 1778,1597 1783,1602 1788,1606 1794,1609.5 1801,1612.5 1809,1614.5 1818,1615.5 1832,1616.5 1848,1616.5 1862,1615.5 1872,1614.5 1883,1611 1892,1606 1900,1599 1907,1590 1913,1580 1920,1566 1940,1515.5 1947,1500 1951,1493 1954,1489.5 1957,1487 1960,1486.5 1963,1487 1967,1490.5 1970,1494.5 1974,1501.5 1980,1515 2000,1565.5 2007,1580.5 2013,1590.5 2020,1600 2027,1606.5 2035,1611.5 2044,1615 2055,1617.5 2069,1619 2123,1621 2226,1622.5 2423,1623.5" fill="none" stroke="#f08030" stroke-width="6.5" stroke-linejoin="round" />
<path d="M1293,1617 1464,1617.5 1516,1617 1546,1615 1593,1608.5 1610,1607 1627,1608.5 1662,1614 1681,1616 1704,1617.5 1730,1617.5 1748,1616.5 1764,1615.5 1780,1613 1814,1607.5 1832,1606.5 1850,1607.5 1885,1614 1902,1616.5 1921,1618 1944,1619 2051,1620 2423,1622" fill="none" stroke="#ff0000" stroke-width="6.5" stroke-linejoin="round" />
<path d="M1293,1620 2423,1622" fill="none" stroke="#8c8c00" stroke-width="8.5" stroke-linejoin="round" />
<path d="M163,2093.5 165,2092 169,2102 173,2088.5 175,2088.5 181,2114.5 184,2120.5 186,2118 191,2096 193,2098 197,2110 203,2086.5 204,2085.5 205,2087 208,2096.5 210,2099.5 212,2096 217,2078.5 219,2076.5 221,2079 225,2099.5 229,2088.5 238,2101.5 240,2100 242,2094.5 243,2094 246,2099 250,2087 253,2090 256,2086.5 260,2106 261,2105.5 264,2095 267,2088.5 273,2093 277,2101.5 282,2079 287,2089.5 292,2118.5 297,2101 299,2098 305,2117 309,2096.5 311,2093 313,2096 316,2109 317,2109 319,2104.5 323,2103.5 326,2095 331,2119.5 334,2115.5 337,2105.5 340,2103.5 344,2079 348,2101.5 351,2097 357,2105 359,2102.5 364,2082 365,2081.5 366,2084.5 369,2098.5 372,2090.5 373,2090.5 376,2093 379,2091.5 382,2092 385,2078 386,2077.5 390,2108.5 393,2103.5 394,2104 399,2119 400,2119 401,2115.5 407,2080 408,2080 411,2086.5 413,2085 415,2086.5 420,2097.5 422,2092.5 424,2080.5 425,2081 428,2098 431,2086 432,2086 434,2096 436,2101 441,2096 446,2097 449,2093 452,2091.5 455,2082.5 456,2082 463,2119.5 464,2122 466,2122.5 473,2108.5 476,2096 477,2095.5 480,2111 481,2112 485,2099 491,2097 494,2099.5 495,2099.5 498,2095.5 501,2097.5 505,2089 508,2095 512,2121 517,2098.5 519,2098 523,2106.5 525,2108 530,2090 537,2109 541,2103 543,2103 546,2114 547,2115 551,2095 554,2100 557,2096.5 560,2111.5 561,2112 565,2082 568,2091 572,2097 575,2107 576,2108.5 578,2108.5 581,2114.5 583,2107 585,2090 586,2089 589,2106 590,2106 592,2099.5 595,2094 597,2097 599,2103.5 600,2103 606,2079.5 610,2093 614,2085.5 620,2103 624,2106 627,2116 629,2110.5 633,2089 635,2085 639,2091 644,2087 645,2088 648,2101 649,2102 655,2080.5 659,2103.5 660,2105 663,2099 666,2101.5 670,2099.5 673,2102.5 676,2097 680,2105 684,2095.5 690,2090 694,2069 695,2069 698,2077 701,2075.5 704,2076.5 707,2064 708,2063.5 712,2088.5 718,2063.5 721,2058 723,2062 726,2076 728,2079 730,2079 732,2077 736,2085.5 739,2082 743,2093 746,2084.5 747,2083.5 748,2085 756,2111.5 758,2104 761,2078.5 762,2078 764,2079.5 767,2075.5 770,2085 771,2085.5 775,2065 776,2064.5 779,2066.5 781,2066 786,2048 789,2043.5 791,2042.5 792,2039.5 796,2016 798,2014.5 803,2017 806,2014 809,2002.5 813,1975.5 814,1973.5 819,1981.5 821,1979 830,1938.5 831,1937.5 833,1942 834,1942 839,1918.5 842,1911 844,1912.5 848,1931.5 852,1922 855,1927.5 858,1916.5 859,1916.5 862,1928 866,1919 869,1929 873,1957 878,1945 879,1943.5 880,1944.5 890,1983.5 891,1983.5 896,1970.5 897,1971.5 901,1995.5 907,2014.5 911,2034 912,2035 914,2032.5 918,2039 921,2028 922,2029.5 928,2063.5 929,2064 933,2052 936,2048.5 938,2048 942,2063 946,2040.5 947,2039.5 952,2053.5 956,2060.5 960,2053.5 963,2061.5 964,2062.5 967,2062 971,2069 973,2070 977,2064 978,2065 984,2087 988,2072.5 989,2072 994,2086 995,2086 998,2071.5 999,2070 1002,2076.5 1005,2065.5 1006,2066 1010,2085 1012,2088.5 1013,2088.5 1016,2079.5 1020,2049.5 1023,2048.5 1029,2026.5 1030,2025 1032,2027 1033,2026 1037,1989.5 1038,1988 1040,1995.5 1041,1994 1044,1976.5 1045,1975 1047,1976 1048,1972.5 1054,1931.5 1055,1928 1059,1924.5 1061,1920.5 1065,1903 1069,1894.5 1075,1859.5 1076,1860.5 1080,1884.5 1087,1874.5 1089,1875.5 1093,1887 1097,1877.5 1100,1880.5 1107,1913.5 1110,1902.5 1111,1905.5 1114,1932.5 1115,1934.5 1118,1928 1120,1930 1125,1969 1126,1969.5 1130,1965.5 1132,1968.5 1141,2023.5 1142,2025 1145,2021 1146,2022.5 1152,2047.5 1153,2048.5 1155,2044.5 1156,2045 1160,2061.5 1162,2063.5 1167,2066 1174,2082.5 1176,2085.5 1178,2085.5 1180,2084 1183,2086.5 1188,2107 1191,2103 1197,2115.5 1198,2116 1201,2113 1204,2126 1205,2126.5 1206,2121.5 1209,2102 1212,2113.5 1215,2108 1216,2110 1219,2128 1220,2130.5 1221,2130 1223,2121.5 1226,2091.5 1227,2089.5 1233,2116.5 1234,2119 1237,2120 1240,2119 1244,2112 1248,2117.5 1250,2118.5 1254,2113 1257,2120 1261,2092.5 1264,2112.5 1265,2114.5 1268,2104 1272,2120 1278,2104.5 1282,2114.5 1286,2103 1289,2101.5 1291,2098 1292,2102.5" fill="none" stroke="#50bbff" stroke-width="9" stroke-linejoin="round" />
<path d="M163,2094.5 520,2100 602,2100.5 645,2100.5 661,2099 673,2096 684,2090 703,2076.5 708,2074.5 712,2074 716,2074.5 720,2076 735,2085.5 742,2088.5 749,2090 756,2089.5 764,2086 771,2080.5 779,2071 786,2059.5 793,2045.5 800,2029 824,1962 833,1940 838,1930 843,1922.5 848,1918 853,1916.5 858,1917.5 863,1921 868,1927 873,1935 883,1955.5 907,2012.5 914,2026 921,2036 926,2040.5 931,2043.5 936,2045.5 947,2048 953,2050.5 959,2055.5 973,2070.5 980,2077 987,2081 991,2081.5 994,2081 998,2079.5 1001,2078 1007,2072 1013,2063 1020,2049 1027,2031 1034,2009.5 1057,1926.5 1066,1898.5 1071,1886.5 1076,1878.5 1080,1874 1082,1873 1085,1872.5 1089,1874 1094,1878.5 1099,1886.5 1104,1896.5 1115,1926.5 1139,2004 1150,2035.5 1157,2052.5 1163,2064.5 1170,2076.5 1177,2086 1184,2093 1192,2099 1201,2104 1211,2107 1222,2109 1237,2110.5 1292,2113.5" fill="none" stroke="#ebaaf8" stroke-width="8" stroke-linejoin="round" />
<path d="M163,2100.5 675,2107.5 757,2108 786,2107 797,2105.5 807,2103.5 815,2100.5 823,2096 830,2091 838,2084 861,2059 869,2051.5 877,2046.5 881,2045 885,2044.5 892,2046 900,2051.5 908,2059 926,2079.5 934,2087.5 943,2095 953,2101.5 965,2106 978,2108.5 996,2110 1014,2109.5 1026,2108 1036,2105.5 1045,2101.5 1053,2096 1061,2089 1069,2080.5 1092,2049.5 1100,2039.5 1105,2035 1109,2032.5 1113,2031 1117,2030.5 1120,2031 1124,2032.5 1128,2035 1132,2038.5 1140,2048 1160,2076 1170,2088.5 1181,2099 1187,2103 1193,2106.5 1206,2111 1223,2114 1246,2115.5 1292,2116.5" fill="none" stroke="#00cc88" stroke-width="6.5" stroke-linejoin="round" />
<path d="M163,2100.5 484,2104 638,2105.5 711,2105 728,2104 741,2102 753,2098.5 763,2093 772,2085 780,2075 787,2064 795,2048.5 819,1991 827,1974 832,1966 836,1961 840,1958 844,1957.5 848,1958.5 852,1961.5 856,1966 860,1972.5 868,1989 887,2035.5 896,2055 905,2071.5 910,2078.5 915,2085 921,2090.5 927,2095 933,2098.5 940,2101 948,2102.5 957,2103.5 966,2103.5 974,2102.5 980,2101 986,2098.5 991,2096 996,2092.5 1001,2087.5 1005,2082.5 1013,2070.5 1020,2056.5 1028,2036.5 1051,1966.5 1059,1944.5 1064,1934 1068,1927.5 1072,1924 1076,1922.5 1080,1924 1084,1928 1088,1934.5 1093,1945 1101,1967.5 1122,2033 1128,2049 1134,2063 1139,2073 1145,2083 1150,2089.5 1156,2095.5 1163,2101 1171,2105 1180,2108 1190,2109.5 1222,2112 1292,2114" fill="none" stroke="#f08030" stroke-width="6.5" stroke-linejoin="round" />
<path d="M163,2097 554,2103 619,2104 648,2103.5 663,2102.5 674,2099.5 684,2094.5 702,2081.5 707,2079.5 711,2079 715,2079.5 720,2081.5 738,2094.5 746,2099.5 754,2102.5 762,2104.5 776,2106 800,2106.5 849,2107.5 880,2107.5 890,2106.5 898,2105.5 905,2104 911,2101.5 916,2098.5 922,2094 943,2074 948,2071 952,2070 957,2071 962,2074.5 982,2094 992,2101.5 1002,2106.5 1015,2109 1035,2110.5 1076,2112 1292,2116.5" fill="none" stroke="#ff0000" stroke-width="6.5" stroke-linejoin="round" />
<path d="M163,2100.5 755,2108.5 1292,2116.5" fill="none" stroke="#8c8c00" stroke-width="8.5" stroke-linejoin="round" />
<path d="M1293,2062.5 1294,2063 1297,2057.5 1299,2058 1305,2068 1307,2065.5 1310,2055.5 1315,2056 1319,2058.5 1323,2051.5 1327,2066 1330,2057.5 1331,2056.5 1334,2061 1337,2052.5 1338,2052.5 1342,2062.5 1345,2061 1347,2056.5 1348,2057 1351,2074.5 1352,2076 1355,2065.5 1359,2075.5 1361,2071.5 1366,2052.5 1368,2053.5 1373,2062 1382,2056.5 1386,2042.5 1387,2043 1390,2052.5 1393,2040 1394,2041 1397,2059 1398,2059 1401,2051 1403,2050.5 1410,2060 1412,2056.5 1416,2041.5 1418,2040.5 1421,2045 1425,2038.5 1428,2047 1432,2070.5 1435,2053.5 1436,2052 1439,2062 1442,2048.5 1443,2048 1446,2059.5 1447,2060 1450,2056 1452,2057 1455,2062 1460,2075 1464,2061.5 1467,2059 1470,2051 1471,2051.5 1474,2062.5 1475,2062.5 1477,2058 1478,2058.5 1481,2065.5 1484,2061 1487,2072 1488,2072 1492,2042 1498,2065 1499,2064.5 1504,2051.5 1506,2050.5 1508,2053.5 1509,2053 1512,2045.5 1513,2046 1520,2078 1522,2073 1527,2046 1529,2046 1532,2049.5 1537,2063.5 1541,2047.5 1543,2047 1547,2061 1548,2063 1550,2063.5 1559,2039 1561,2036.5 1564,2041 1565,2041 1568,2031 1572,2053.5 1573,2053.5 1575,2046 1576,2045 1583,2066 1586,2058.5 1589,2039.5 1590,2039 1594,2056 1596,2056.5 1601,2035.5 1603,2034.5 1606,2039.5 1607,2039.5 1610,2030 1614,2051.5 1618,2021.5 1625,2036 1634,2038.5 1638,2033 1641,2040 1642,2039 1646,2010.5 1649,2022 1650,2022 1653,2015.5 1655,2017.5 1657,2018 1659,2015 1664,1997 1666,1996 1669,2002 1670,2003 1671,2001.5 1677,1979.5 1680,1994 1681,1996.5 1682,1996 1684,1989 1688,1950 1689,1950.5 1693,1965 1694,1967.5 1695,1966 1699,1945 1708,1917.5 1712,1913.5 1715,1908.5 1719,1915 1723,1902.5 1726,1899.5 1729,1893.5 1733,1902 1736,1897.5 1737,1897.5 1744,1918.5 1747,1916 1752,1920.5 1763,1924.5 1768,1938.5 1771,1930 1775,1952.5 1776,1953.5 1780,1944.5 1781,1943 1783,1944 1789,1952 1792,1961.5 1793,1962.5 1795,1960.5 1796,1961.5 1799,1978 1800,1979 1805,1959.5 1806,1957.5 1807,1958.5 1810,1971 1811,1971 1813,1967 1814,1969 1818,1993 1821,2003.5 1823,2003.5 1824,2001.5 1828,1987 1831,1996 1835,2020.5 1838,2012.5 1839,2011 1841,2011 1849,2037 1855,2022 1857,2021.5 1862,2026 1867,2012.5 1869,2010.5 1873,2018.5 1877,2010.5 1880,2015.5 1883,2016.5 1886,2029.5 1887,2030 1891,2000.5 1892,1999.5 1894,2000.5 1898,1996 1903,1996.5 1904,1995 1908,1973.5 1915,1945.5 1917,1943.5 1919,1945 1921,1948.5 1922,1949 1923,1947 1929,1918.5 1930,1916.5 1939,1909 1943,1892.5 1947,1884.5 1950,1869 1951,1867.5 1953,1870.5 1956,1889.5 1957,1890.5 1961,1859 1964,1871.5 1967,1877.5 1968,1878 1972,1873 1974,1872 1979,1883 1984,1888 1988,1877.5 1989,1878.5 1992,1894.5 1993,1896.5 1995,1895.5 1997,1898.5 2008,1933 2010,1934.5 2012,1930 2013,1930.5 2018,1953 2026,1969.5 2027,1970.5 2028,1969 2031,1963 2034,1968 2037,1979.5 2038,1979.5 2041,1969 2045,1986.5 2048,1986.5 2051,1991 2054,1985.5 2055,1985 2056,1987 2065,2023.5 2068,2030 2070,2029.5 2073,2025.5 2076,2027 2079,2025.5 2083,2039.5 2084,2040.5 2086,2039.5 2087,2041 2093,2063 2094,2063 2095,2059.5 2100,2040 2101,2039.5 2104,2045.5 2108,2043.5 2110,2046 2111,2050 2115,2074 2117,2070 2121,2054.5 2122,2055.5 2126,2077.5 2128,2081 2132,2068 2133,2066 2135,2065 2138,2068 2150,2088.5 2160,2091.5 2163,2085 2167,2065 2172,2079 2174,2081 2177,2077 2181,2086.5 2187,2071.5 2192,2093 2198,2084 2202,2090 2205,2091.5 2208,2086.5 2213,2061 2217,2074 2219,2075 2222,2072 2223,2072 2229,2091 2230,2091.5 2231,2089 2234,2075.5 2236,2071 2238,2079 2240,2096 2241,2097 2244,2078.5 2247,2070.5 2251,2083 2253,2085.5 2255,2084 2258,2077 2261,2087 2262,2087 2265,2077.5 2268,2073.5 2275,2088.5 2278,2079.5 2279,2078 2280,2078.5 2282,2083.5 2283,2084.5 2285,2082.5 2286,2084 2289,2100.5 2290,2099.5 2293,2080 2297,2093.5 2300,2083.5 2302,2081.5 2304,2083 2307,2090 2313,2095.5 2315,2094 2320,2079.5 2322,2076.5 2324,2077.5 2328,2087.5 2331,2090 2334,2096 2335,2096.5 2336,2095.5 2339,2089.5 2345,2098.5 2347,2093.5 2353,2068.5 2356,2070 2358,2069 2359,2070 2363,2095.5 2366,2080.5 2367,2080 2370,2094.5 2371,2095 2373,2092 2374,2093 2377,2100.5 2379,2098 2385,2082.5 2388,2082.5 2392,2085 2394,2085.5 2398,2079.5 2401,2083.5 2404,2096.5 2405,2096.5 2409,2071 2412,2083.5 2413,2083.5 2415,2077 2416,2077 2421,2090.5 2422,2091.5 2423,2089.5" fill="none" stroke="#50bbff" stroke-width="9" stroke-linejoin="round" />
<path d="M1293,2058 1455,2058.5 1492,2058.5 1516,2057.5 1536,2056 1555,2053 1616,2042 1628,2038.5 1636,2035 1644,2029.5 1651,2023 1658,2015 1665,2004.5 1672,1992.5 1698,1940 1708,1922.5 1714,1914 1719,1909 1724,1906 1730,1904.5 1735,1905 1740,1906.5 1746,1910.5 1752,1915.5 1763,1927 1791,1961 1805,1977 1820,1992 1834,2004.5 1846,2013.5 1856,2018.5 1865,2020.5 1873,2020 1879,2017.5 1885,2013 1890,2008 1896,1999.5 1902,1989.5 1909,1975.5 1934,1916 1944,1895.5 1950,1886.5 1955,1881 1960,1878 1963,1877 1966,1876.5 1972,1878.5 1978,1882.5 1984,1888.5 1991,1897.5 2004,1917.5 2032,1965.5 2047,1990 2060,2009 2073,2026 2086,2040.5 2098,2051.5 2110,2060 2123,2067 2136,2072 2150,2075.5 2167,2078 2188,2079.5 2263,2082 2423,2084" fill="none" stroke="#ebaaf8" stroke-width="8" stroke-linejoin="round" />
<path d="M1293,2065.5 1571,2067 1619,2066.5 1633,2065.5 1645,2064 1656,2062 1667,2059 1677,2055 1686,2050.5 1696,2044.5 1706,2037 1738,2009.5 1750,2000.5 1757,1996.5 1763,1994 1769,1992 1775,1991.5 1781,1992 1787,1994 1793,1996.5 1800,2000.5 1812,2010 1844,2039 1853,2046 1862,2052 1871,2056 1880,2059 1889,2060.5 1897,2060 1904,2059 1911,2056.5 1918,2053.5 1925,2049 1933,2043 1942,2035.5 1972,2005 1984,1994.5 1991,1989.5 1997,1986.5 2003,1984.5 2009,1984 2015,1985 2022,1987.5 2028,1991 2035,1996.5 2046,2007 2081,2045.5 2091,2055 2101,2063 2110,2069 2120,2074.5 2130,2078.5 2140,2081.5 2152,2084 2165,2086 2200,2088 2275,2090 2423,2091.5" fill="none" stroke="#00cc88" stroke-width="6.5" stroke-linejoin="round" />
<path d="M1293,2064.5 1466,2065.5 1559,2065.5 1595,2064.5 1608,2063 1618,2061 1627,2058.5 1636,2054 1644,2048.5 1651,2042.5 1658,2034.5 1666,2024 1690,1987 1699,1974.5 1704,1969 1709,1965 1714,1962.5 1718,1962 1722,1962.5 1727,1964.5 1732,1969 1737,1974.5 1746,1987 1765,2018 1774,2031.5 1784,2044 1794,2053.5 1800,2058 1806,2061.5 1812,2064.5 1819,2066.5 1826,2068 1834,2069 1842,2069 1849,2068 1859,2065.5 1868,2061 1877,2054.5 1885,2046.5 1893,2036 1901,2023.5 1925,1978.5 1934,1963.5 1939,1957 1944,1952 1949,1949 1953,1948.5 1957,1949 1962,1952 1967,1957 1972,1964 1981,1979 2007,2030.5 2015,2043.5 2023,2054.5 2031,2063.5 2039,2070.5 2048,2076 2057,2079.5 2067,2082 2080,2083.5 2119,2085.5 2223,2087 2423,2088.5" fill="none" stroke="#f08030" stroke-width="6.5" stroke-linejoin="round" />
<path d="M1293,2063.5 1456,2064.5 1508,2064.5 1539,2062.5 1588,2055.5 1605,2054.5 1624,2056 1659,2062.5 1677,2065 1696,2067 1718,2068.5 1741,2069 1773,2068.5 1792,2067.5 1829,2063.5 1848,2063.5 1865,2066 1908,2075 1932,2078.5 1969,2081 2050,2085.5 2423,2088" fill="none" stroke="#ff0000" stroke-width="6.5" stroke-linejoin="round" />
<path d="M1293,2064.5 1600,2067 1750,2071 1900,2079 2050,2086 2423,2088" fill="none" stroke="#8c8c00" stroke-width="8.5" stroke-linejoin="round" />
<text x="201.4" y="1266.0" font-size="46" text-anchor="start" >1%Pt/CeO<tspan font-size="26" dy="12.5">2</tspan><tspan dy="-12.5">-500</tspan></text>
<text x="2035.3" y="1272.7" font-size="46" text-anchor="start" >1%Pt/CeO<tspan font-size="26" dy="12.5">2</tspan><tspan dy="-12.5">-500</tspan><tspan>-H</tspan><tspan font-size="26" dy="12.5">2</tspan></text>
<text x="201.4" y="1747.3" font-size="46" text-anchor="start" >1%Pt/CeO<tspan font-size="26" dy="12.5">2</tspan><tspan dy="-12.5">-600</tspan></text>
<text x="2034.5" y="1718.0" font-size="46" text-anchor="start" >1%Pt/CeO<tspan font-size="26" dy="12.5">2</tspan><tspan dy="-12.5">-600</tspan><tspan>-H</tspan><tspan font-size="26" dy="12.5">2</tspan></text>
<rect x="844.0" y="1296.0" width="243.2" height="8.0" fill="#000"/>
<rect x="844.0" y="1303.5" width="7.5" height="14.0" fill="#000"/>
<rect x="844.0" y="1342.3" width="7.5" height="14.0" fill="#000"/>
<rect x="844.0" y="1381.1" width="7.5" height="14.0" fill="#000"/>
<rect x="844.0" y="1419.9" width="7.5" height="14.0" fill="#000"/>
<rect x="844.0" y="1458.7" width="7.5" height="14.0" fill="#000"/>
<rect x="844.0" y="1497.5" width="7.5" height="8.0" fill="#000"/>
<rect x="1079.7" y="1303.5" width="7.5" height="14.0" fill="#000"/>
<rect x="1079.7" y="1342.3" width="7.5" height="14.0" fill="#000"/>
<rect x="1079.7" y="1381.1" width="7.5" height="14.0" fill="#000"/>
<rect x="1079.7" y="1419.9" width="7.5" height="14.0" fill="#000"/>
<rect x="1079.7" y="1458.7" width="7.5" height="14.0" fill="#000"/>
<rect x="1079.7" y="1497.5" width="7.5" height="8.0" fill="#000"/>
<rect x="882.2" y="1370.0" width="238.3" height="8.0" fill="#000"/>
<rect x="882.2" y="1377.5" width="7.5" height="14.0" fill="#000"/>
<rect x="882.2" y="1416.3" width="7.5" height="14.0" fill="#000"/>
<rect x="882.2" y="1455.1" width="7.5" height="14.0" fill="#000"/>
<rect x="882.2" y="1493.9" width="7.5" height="14.0" fill="#000"/>
<rect x="882.2" y="1532.7" width="7.5" height="14.0" fill="#000"/>
<rect x="1113.0" y="1377.5" width="7.5" height="14.0" fill="#000"/>
<rect x="1113.0" y="1416.3" width="7.5" height="14.0" fill="#000"/>
<rect x="1113.0" y="1455.1" width="7.5" height="14.0" fill="#000"/>
<rect x="1113.0" y="1493.9" width="7.5" height="14.0" fill="#000"/>
<rect x="1113.0" y="1532.7" width="7.5" height="14.0" fill="#000"/>
<rect x="1113.0" y="1571.5" width="7.5" height="14.0" fill="#000"/>
<rect x="723.2" y="1504.5" width="237.0" height="8.0" fill="#000"/>
<rect x="723.2" y="1512.0" width="7.5" height="14.0" fill="#000"/>
<rect x="723.2" y="1550.8" width="7.5" height="14.0" fill="#000"/>
<rect x="723.2" y="1589.6" width="7.5" height="14.0" fill="#000"/>
<rect x="723.2" y="1628.4" width="7.5" height="14.0" fill="#000"/>
<rect x="723.2" y="1667.2" width="7.5" height="14.0" fill="#000"/>
<rect x="952.8" y="1512.0" width="7.5" height="14.0" fill="#000"/>
<rect x="952.8" y="1550.8" width="7.5" height="14.0" fill="#000"/>
<rect x="952.8" y="1589.6" width="7.5" height="14.0" fill="#000"/>
<rect x="952.8" y="1628.4" width="7.5" height="14.0" fill="#000"/>
<rect x="952.8" y="1667.2" width="7.5" height="14.0" fill="#000"/>
<text x="928.5" y="1287.3" font-size="54" text-anchor="start" >Pt<tspan font-size="42" dy="-22">2+</tspan></text>
<text x="963.0" y="1371.0" font-size="54" text-anchor="start" >Pt<tspan font-size="40" dy="-22">0</tspan></text>
<text x="646.7" y="1456.4" font-size="54" text-anchor="start" >Pt<tspan font-size="42" dy="-22">4+</tspan></text>
<line x1="715.0" y1="1447.0" x2="762.8" y2="1482.7" stroke="#000" stroke-width="7"/>
<polygon points="793.2,1505.5 753.4,1491.9 762.8,1482.7 769.0,1471.1" fill="#000"/>
<rect x="1719.8" y="1348.7" width="245.0" height="8.0" fill="#000"/>
<rect x="1719.8" y="1356.2" width="7.5" height="14.0" fill="#000"/>
<rect x="1719.8" y="1395.0" width="7.5" height="14.0" fill="#000"/>
<rect x="1719.8" y="1433.8" width="7.5" height="14.0" fill="#000"/>
<rect x="1719.8" y="1472.6" width="7.5" height="14.0" fill="#000"/>
<rect x="1719.8" y="1511.4" width="7.5" height="14.0" fill="#000"/>
<rect x="1719.8" y="1550.2" width="7.5" height="14.0" fill="#000"/>
<rect x="1957.2" y="1356.2" width="7.5" height="14.0" fill="#000"/>
<rect x="1957.2" y="1395.0" width="7.5" height="14.0" fill="#000"/>
<rect x="1957.2" y="1433.8" width="7.5" height="14.0" fill="#000"/>
<rect x="1957.2" y="1472.6" width="7.5" height="14.0" fill="#000"/>
<rect x="1957.2" y="1511.4" width="7.5" height="14.0" fill="#000"/>
<rect x="1796.2" y="1426.0" width="242.2" height="8.0" fill="#000"/>
<rect x="1796.2" y="1433.5" width="7.5" height="14.0" fill="#000"/>
<rect x="1796.2" y="1472.3" width="7.5" height="14.0" fill="#000"/>
<rect x="1796.2" y="1511.1" width="7.5" height="14.0" fill="#000"/>
<rect x="1796.2" y="1549.9" width="7.5" height="14.0" fill="#000"/>
<rect x="1796.2" y="1588.7" width="7.5" height="14.0" fill="#000"/>
<rect x="1796.2" y="1627.5" width="7.5" height="14.0" fill="#000"/>
<rect x="2031.0" y="1433.5" width="7.5" height="14.0" fill="#000"/>
<rect x="2031.0" y="1472.3" width="7.5" height="14.0" fill="#000"/>
<rect x="2031.0" y="1511.1" width="7.5" height="14.0" fill="#000"/>
<rect x="2031.0" y="1549.9" width="7.5" height="14.0" fill="#000"/>
<rect x="2031.0" y="1588.7" width="7.5" height="14.0" fill="#000"/>
<rect x="1606.2" y="1473.0" width="241.0" height="8.0" fill="#000"/>
<rect x="1606.2" y="1480.5" width="7.5" height="14.0" fill="#000"/>
<rect x="1606.2" y="1519.3" width="7.5" height="14.0" fill="#000"/>
<rect x="1606.2" y="1558.1" width="7.5" height="14.0" fill="#000"/>
<rect x="1606.2" y="1596.9" width="7.5" height="14.0" fill="#000"/>
<rect x="1606.2" y="1635.7" width="7.5" height="14.0" fill="#000"/>
<rect x="1839.8" y="1480.5" width="7.5" height="14.0" fill="#000"/>
<rect x="1839.8" y="1519.3" width="7.5" height="14.0" fill="#000"/>
<rect x="1839.8" y="1558.1" width="7.5" height="14.0" fill="#000"/>
<rect x="1839.8" y="1596.9" width="7.5" height="14.0" fill="#000"/>
<rect x="1839.8" y="1635.7" width="7.5" height="14.0" fill="#000"/>
<text x="1810.8" y="1338.2" font-size="54" text-anchor="start" >Pt<tspan font-size="42" dy="-22">2+</tspan></text>
<text x="1885.4" y="1420.0" font-size="54" text-anchor="start" >Pt<tspan font-size="40" dy="-22">0</tspan></text>
<text x="1669.0" y="1468.4" font-size="54" text-anchor="start" >Pt<tspan font-size="42" dy="-22">4+</tspan></text>
<rect x="147.7" y="2365.0" width="2272.3" height="956.0" fill="none" stroke="#000" stroke-width="9.5"/>
<rect x="246.4" y="3306.5" width="9.0" height="11.5" fill="#000"/>
<rect x="452.9" y="3306.5" width="9.0" height="11.5" fill="#000"/>
<rect x="659.5" y="3306.5" width="9.0" height="11.5" fill="#000"/>
<rect x="866.0" y="3306.5" width="9.0" height="11.5" fill="#000"/>
<rect x="1072.4" y="3306.5" width="9.0" height="11.5" fill="#000"/>
<rect x="349.7" y="3313.8" width="9.0" height="4.2" fill="#000"/>
<rect x="556.2" y="3313.8" width="9.0" height="4.2" fill="#000"/>
<rect x="762.7" y="3313.8" width="9.0" height="4.2" fill="#000"/>
<rect x="969.2" y="3313.8" width="9.0" height="4.2" fill="#000"/>
<rect x="1175.7" y="3313.8" width="9.0" height="4.2" fill="#000"/>
<rect x="1383.0" y="3306.5" width="9.0" height="11.5" fill="#000"/>
<rect x="1589.5" y="3306.5" width="9.0" height="11.5" fill="#000"/>
<rect x="1796.0" y="3306.5" width="9.0" height="11.5" fill="#000"/>
<rect x="2002.5" y="3306.5" width="9.0" height="11.5" fill="#000"/>
<rect x="2208.9" y="3306.5" width="9.0" height="11.5" fill="#000"/>
<rect x="1486.2" y="3313.8" width="9.0" height="4.2" fill="#000"/>
<rect x="1692.7" y="3313.8" width="9.0" height="4.2" fill="#000"/>
<rect x="1899.2" y="3313.8" width="9.0" height="4.2" fill="#000"/>
<rect x="2105.7" y="3313.8" width="9.0" height="4.2" fill="#000"/>
<rect x="2312.2" y="3313.8" width="9.0" height="4.2" fill="#000"/>
<text x="250.9" y="3373.0" font-size="48" text-anchor="middle" >920</text>
<text x="457.4" y="3373.0" font-size="48" text-anchor="middle" >910</text>
<text x="664.0" y="3373.0" font-size="48" text-anchor="middle" >900</text>
<text x="870.5" y="3373.0" font-size="48" text-anchor="middle" >890</text>
<text x="1076.9" y="3373.0" font-size="48" text-anchor="middle" >880</text>
<text x="1283.5" y="3373.0" font-size="48" text-anchor="middle" >870</text>
<text x="1378.5" y="3368.8" font-size="48" text-anchor="middle" >920</text>
<text x="1585.0" y="3368.8" font-size="48" text-anchor="middle" >910</text>
<text x="1791.5" y="3368.8" font-size="48" text-anchor="middle" >900</text>
<text x="1998.0" y="3368.8" font-size="48" text-anchor="middle" >890</text>
<text x="2204.4" y="3368.8" font-size="48" text-anchor="middle" >880</text>
<text x="2410.9" y="3368.8" font-size="48" text-anchor="middle" >870</text>
<rect x="1279.0" y="2369.4" width="10.0" height="38.0" fill="#000"/>
<rect x="1279.0" y="2443.3" width="10.0" height="38.0" fill="#000"/>
<rect x="1279.0" y="2517.2" width="10.0" height="38.0" fill="#000"/>
<rect x="1279.0" y="2591.1" width="10.0" height="38.0" fill="#000"/>
<rect x="1279.0" y="2665.0" width="10.0" height="38.0" fill="#000"/>
<rect x="1279.0" y="2738.9" width="10.0" height="38.0" fill="#000"/>
<rect x="1279.0" y="2812.8" width="10.0" height="38.0" fill="#000"/>
<rect x="1279.0" y="2886.7" width="10.0" height="38.0" fill="#000"/>
<rect x="1279.0" y="2960.6" width="10.0" height="38.0" fill="#000"/>
<rect x="1279.0" y="3034.5" width="10.0" height="38.0" fill="#000"/>
<rect x="1279.0" y="3108.4" width="10.0" height="38.0" fill="#000"/>
<rect x="1279.0" y="3182.3" width="10.0" height="38.0" fill="#000"/>
<rect x="1279.0" y="3256.2" width="10.0" height="38.0" fill="#000"/>
<text transform="translate(106.7,2817.7) rotate(-90)" x="0" y="0" font-size="58" text-anchor="middle">Intensity/a.u.</text>
<text x="32.0" y="2459.0" font-size="95" text-anchor="start" >(c)</text>
<path d="M152,2600.5 159,2599.5 160,2600.5 163,2600.5 164,2601.5 165,2601 169,2602.5 171,2600.5 173,2601 174,2599.5 176,2600.5 178,2599.5 180,2602 184,2604.5 185,2603.5 187,2605.5 189,2604.5 194,2604.5 197,2602 199,2603.5 201,2606.5 204,2607.5 205,2606 207,2606 209,2604.5 211,2605.5 212,2605 213,2606 219,2606 220,2607 223,2607.5 225,2609 226,2607.5 228,2608.5 230,2606 231,2608 232,2606.5 234,2607.5 238,2606.5 239,2606.5 240,2608.5 241,2608 244,2609 245,2608 247,2609 250,2607 254,2608 259,2607 260,2608.5 264,2610.5 265,2609 267,2609.5 269,2609 270,2610.5 272,2607.5 277,2609.5 279,2609.5 281,2607 283,2606.5 288,2611 294,2606 296,2607 300,2607 303,2609 304,2608.5 307,2610 308,2611.5 313,2608.5 315,2608.5 320,2605.5 323,2607.5 325,2608 328,2606 331,2606 332,2605 333,2606 336,2603.5 345,2601.5 348,2599 351,2598 352,2596.5 353,2597 355,2594.5 356,2595 360,2588.5 369,2569 379,2530 384,2515 388,2495.5 395,2472 399,2468.5 402,2468.5 404,2470.5 407,2476.5 411,2488.5 428,2566 433,2585.5 439,2603 445,2615 449,2620 451,2621 453,2626.5 457,2629.5 458,2627 460,2628.5 465,2634.5 467,2633 469,2634 470,2633 473,2634.5 475,2636.5 476,2635 477,2635.5 480,2633.5 481,2636.5 483,2638 485,2638 486,2637.5 489,2637 491,2638 494,2636.5 496,2633.5 499,2635 501,2637.5 503,2635.5 505,2635 507,2636 508,2638.5 513,2633.5 515,2635 518,2633 521,2633.5 525,2632.5 527,2631 528,2632 531,2631 533,2628.5 539,2625 540,2625.5 541,2623 544,2623 545,2621 547,2622 550,2621 555,2615 559,2613 564,2612 573,2601.5 576,2601 577,2599 579,2601.5 580,2600 582,2601 584,2598.5 593,2596.5 598,2600 600,2600.5 602,2599.5 604,2602.5 607,2604.5 610,2602.5 613,2607 616,2606.5 618,2607.5 620,2611 622,2610.5 623,2612 625,2612.5 626,2614 628,2613 632,2615 634,2613.5 637,2613.5 638,2616 644,2618 646,2617 647,2618 651,2618 653,2616 656,2616.5 658,2618 661,2618.5 666,2616.5 667,2617.5 670,2615 674,2617 678,2612 682,2612.5 685,2608 687,2606 689,2606 694,2594.5 698,2589.5 710,2549.5 719,2512 724,2503.5 726,2498 729,2494 732,2497.5 735,2507.5 747,2571.5 750,2579.5 753,2582 755,2579.5 756,2579.5 759,2572.5 765,2544.5 774,2491 776,2484 780,2476 782,2476.5 784,2480.5 788,2500.5 804,2642 813,2693 816,2704.5 822,2718 824,2721.5 825,2721 828,2725.5 829,2725.5 830,2728.5 833,2730.5 834,2733 836,2732.5 837,2733.5 839,2732 843,2735.5 848,2736.5 849,2738 851,2737.5 852,2739 853,2739 854,2737 856,2737 857,2736 859,2737 860,2736 865,2737 866,2738.5 870,2740.5 871,2738.5 875,2739 877,2741 878,2740 880,2740.5 882,2738.5 883,2740 885,2738.5 887,2739 889,2737 897,2737 902,2735.5 904,2735.5 907,2733 908,2733.5 910,2732 912,2732.5 916,2728 920,2726 925,2720.5 930,2710.5 932,2709.5 933,2707.5 934,2708.5 936,2705 938,2704.5 939,2701 943,2693.5 946,2691 949,2684.5 954,2682 959,2669 965,2667 970,2662 971,2663.5 973,2663.5 975,2666.5 977,2665.5 981,2666 990,2680 992,2680.5 997,2686.5 1001,2687.5 1003,2689.5 1004,2689 1011,2699 1014,2701.5 1017,2701 1020,2702.5 1021,2701.5 1022,2703.5 1023,2703 1026,2704 1027,2702.5 1029,2703.5 1034,2698.5 1036,2698 1040,2700.5 1042,2696.5 1045,2693.5 1049,2696 1051,2693.5 1052,2695 1057,2685 1062,2680.5 1066,2674 1081,2637 1094,2592.5 1099,2571.5 1107,2554.5 1110,2552 1114,2553 1118,2562.5 1120,2575 1135,2696.5 1142,2745.5 1149,2782 1157,2805.5 1159,2805.5 1164,2816 1165,2816.5 1166,2815 1167,2816 1172,2824.5 1174,2823.5 1176,2825 1177,2823.5 1179,2826 1181,2826 1185,2828.5 1188,2826 1191,2827.5 1194,2827.5 1198,2829.5 1201,2829.5 1202,2828 1209,2831 1211,2829.5 1212,2830.5 1214,2829.5 1216,2832 1217,2831 1221,2835 1226,2831.5 1227,2833 1229,2832 1234,2835.5 1236,2834.5 1238,2832 1242,2832 1243,2834 1245,2835 1250,2832.5 1253,2834.5 1258,2832.5 1261,2834 1262,2833.5 1269,2835.5 1273,2835.5 1274,2834.5 1277,2835 1278,2833.5 1280,2834 1282,2834.5 1284,2836.5" fill="none" stroke="#7f00ff" stroke-width="13" stroke-linejoin="round" />
<path d="M152,2599 191,2604.5 242,2607.5 266,2608.5 297,2608.5 319,2607 336,2605 341,2603.5 346,2601.5 352,2597.5 357,2592 362,2583.5 366,2575 370,2564.5 375,2548.5 389,2493 393,2479 397,2469.5 399,2467 401,2466.5 403,2467.5 405,2470.5 407,2475 410,2484.5 414,2500.5 428,2565 433,2584.5 437,2597 442,2609.5 447,2618 453,2625 459,2629.5 464,2631.5 471,2634 487,2636 503,2636 520,2633 530,2630 541,2625 576,2602 583,2599.5 589,2598 595,2598.5 602,2600.5 627,2612.5 639,2616.5 651,2617.5 672,2616 679,2613.5 685,2609.5 690,2603.5 695,2595 699,2585.5 704,2570.5 717,2522 721,2509 725,2499.5 727,2497 729,2495.5 731,2496 732,2497.5 735,2507.5 744,2556.5 748,2573 750,2578 752,2580.5 753,2581 755,2579.5 758,2573 761,2561.5 772,2502.5 775,2488.5 778,2479.5 780,2476.5 781,2476.5 783,2478 784,2480.5 786,2488.5 788,2500.5 792,2532 803,2631.5 807,2660.5 811,2683.5 815,2700 820,2714 825,2723 831,2729 837,2732.5 844,2734.5 856,2737 871,2738 883,2738.5 892,2738 900,2736.5 908,2733.5 917,2728 925,2720.5 934,2709 951,2683 958,2673.5 965,2666.5 968,2664.5 971,2664 976,2664.5 982,2668 987,2673 1004,2692 1010,2697 1016,2700.5 1022,2702 1029,2702 1037,2699.5 1045,2695 1053,2689.5 1060,2682.5 1066,2674 1071,2664.5 1076,2652 1081,2637 1096,2582 1101,2566 1106,2555 1109,2551.5 1111,2551 1114,2553.5 1116,2557.5 1120,2576.5 1124,2604.5 1137,2712.5 1144,2757.5 1148,2776.5 1152,2791.5 1156,2802.5 1160,2810 1165,2817 1171,2821.5 1179,2825 1190,2827.5 1206,2830 1226,2832 1284,2835" fill="none" stroke="#4800ff" stroke-width="7" stroke-linejoin="round" />
<path d="M152,2599.5 191,2605 266,2609.5 297,2609.5 319,2608.5 336,2606 341,2605 346,2603 352,2599 357,2593 362,2585 366,2576.5 370,2566 375,2550 389,2494.5 393,2481 397,2471.5 399,2469 401,2468.5 403,2469.5 405,2472 407,2477 410,2486.5 414,2502.5 428,2567.5 436,2596.5 440,2607.5 445,2617.5 450,2625 456,2630.5 461,2633.5 466,2636 481,2640 586,2655.5 654,2669.5 665,2672.5 686,2679.5 707,2689.5" fill="none" stroke="#00ff80" stroke-width="8.5" stroke-linejoin="round" />
<path d="M321,2613 339,2614.5 361,2616.5 367,2618 375,2620 406,2632 439,2641 453,2642 486,2642.5 506,2641 517,2639 526,2636.5 534,2633 542,2629 567,2613 576,2608 581,2606 585,2605.5 589,2605 593,2606 600,2608.5 608,2614 616,2621 644,2648 655,2656.5 669,2666 717,2693 762,2716.5 794,2735.5 799,2738 805,2740 829,2744.5 841,2746 863,2747" fill="none" stroke="#ffaa00" stroke-width="8.5" stroke-linejoin="round" />
<path d="M468,2644 511,2646.5 569,2652.5 595,2654.5 605,2654.5 616,2653.5 627,2651.5 637,2648 654,2640.5 661,2638.5 668,2637.5 675,2638.5 680,2640 684,2642 692,2648.5 699,2655.5 724,2683.5 733,2692 742,2700 752,2707.5 774,2722 795,2735.5 800,2738 806,2739.5 833,2744.5 887,2749" fill="none" stroke="#ff6000" stroke-width="8.5" stroke-linejoin="round" />
<path d="M450,2643 519,2647.5 584,2654.5 625,2661.5 648,2664.5 666,2665.5 671,2665 675,2664 681,2660 686,2654.5 691,2646 695,2636.5 699,2625 703,2611 720,2541.5 723,2532.5 725,2528.5 727,2526 729,2525 731,2526.5 732,2528.5 734,2536 736,2546.5 748,2636 752,2661 755,2675.5 758,2687.5 762,2699 766,2707 770,2713 778,2721.5 791,2731.5 798,2735.5 806,2738.5 828,2743.5 838,2745 913,2751" fill="none" stroke="#2040ff" stroke-width="8.5" stroke-linejoin="round" />
<path d="M486,2645.5 518,2647.5 589,2656 660,2669.5 686,2676.5 709,2685 718,2687.5 726,2688 732,2686 737,2681.5 742,2673 746,2663 750,2648.5 754,2630 758,2607.5 773,2510 776,2496 778,2490 780,2486.5 781,2486 782,2486 783,2487.5 785,2493 789,2515.5 802,2630.5 809,2679 813,2698.5 817,2712.5 821,2722 826,2730 830,2734 834,2736.5 839,2739 846,2741 859,2743.5 883,2746.5 946,2753.5 1011,2770 1031,2776" fill="none" stroke="#30f0ff" stroke-width="8.5" stroke-linejoin="round" />
<path d="M699,2685.5 759,2715 792,2734.5 801,2738.5 807,2740 837,2744.5 859,2745 882,2745 893,2744 902,2742 910,2738.5 917,2734 923,2729 930,2721 951,2690.5 958,2682 962,2678.5 965,2676.5 969,2675.5 972,2676 975,2677 978,2679.5 984,2686.5 990,2696.5 1006,2726.5 1014,2740 1023,2753 1032,2763 1038,2768 1045,2773 1092,2801 1123,2823 1128,2825.5 1134,2827.5 1156,2833.5 1165,2835 1245,2837" fill="none" stroke="#22ee00" stroke-width="8.5" stroke-linejoin="round" />
<path d="M781,2728 794,2736 802,2739 832,2744.5 842,2745.5 940,2751.5 962,2754 972,2754 984,2753 996,2749.5 1007,2744 1027,2731 1035,2726.5 1043,2723.5 1047,2723 1050,2723.5 1054,2724.5 1058,2727 1062,2730.5 1067,2735.5 1080,2753 1104,2789.5 1115,2804.5 1125,2816 1130,2819.5 1136,2823 1145,2827 1156,2831 1169,2834 1209,2835.5 1284,2837" fill="none" stroke="#a0e040" stroke-width="8.5" stroke-linejoin="round" />
<path d="M659,2671 683,2678.5 695,2683.5 760,2715.5 794,2735.5 800,2738 805,2739.5 829,2744 839,2745 941,2751 950,2752.5 986,2759.5 1006,2762.5 1026,2764.5 1037,2763.5 1042,2762 1046,2760 1050,2757 1054,2753.5 1061,2743.5 1067,2730.5 1073,2713 1079,2691 1096,2613 1102,2589 1105,2579.5 1108,2573 1111,2570 1113,2569.5 1115,2571.5 1117,2576.5 1121,2595.5 1125,2624 1137,2720 1144,2763.5 1148,2782 1152,2796.5 1156,2807 1160,2814.5 1165,2820.5 1171,2825 1179,2828 1189,2830 1205,2832 1225,2834 1284,2836.5" fill="none" stroke="#0099ff" stroke-width="8.5" stroke-linejoin="round" />
<path d="M152,2600.5 193,2606 259,2611 330,2614 361,2617 373,2620 408,2633.5 440,2642.5 449,2643.5 514,2647.5 579,2655.5 593,2657.5 652,2669.5 667,2673.5 685,2680 695,2684 759,2716 792,2735 801,2739.5 807,2741 837,2746 877,2748.5 943,2754 952,2756 1015,2771.5 1048,2781.5 1061,2786.5 1088,2800.5 1096,2805.5 1121,2823 1128,2826.5 1134,2829 1157,2834.5 1168,2836 1284,2837.5" fill="none" stroke="#ff2000" stroke-width="11" stroke-linejoin="round" />
<path d="M1289,2592.5 1290,2593 1294,2589.5 1296,2590.5 1298,2589 1302,2589 1306,2587 1309,2588 1311,2590.5 1316,2588 1318,2588 1319,2589 1322,2589 1324,2587 1327,2588 1328,2590 1329,2590 1330,2591.5 1333,2591 1336,2592.5 1341,2587 1344,2589.5 1348,2587.5 1349,2588 1352,2587 1353,2588 1354,2586.5 1357,2586.5 1358,2588 1360,2589 1362,2588.5 1363,2585.5 1365,2586 1366,2585.5 1374,2589 1378,2588.5 1383,2585.5 1384,2586.5 1386,2585.5 1388,2588 1390,2588 1391,2589.5 1395,2587 1397,2587 1399,2585 1400,2586 1402,2585 1404,2586.5 1407,2585 1413,2586 1421,2578.5 1422,2576.5 1426,2573.5 1427,2574.5 1429,2573.5 1432,2569.5 1436,2560.5 1441,2554 1450,2523.5 1458,2486 1467,2449.5 1473,2433.5 1474,2432 1476,2431 1482,2442 1489,2469 1500,2528.5 1507,2558 1509,2562.5 1514,2580.5 1520,2594 1521,2593.5 1522,2596.5 1523,2597.5 1524,2597.5 1528,2602 1533,2611.5 1542,2609.5 1549,2615.5 1558,2616 1563,2618.5 1566,2618 1568,2619 1573,2616.5 1578,2622.5 1580,2620 1582,2620.5 1586,2624 1589,2620.5 1590,2621 1592,2619 1593,2620 1596,2618 1597,2620 1599,2620 1600,2618.5 1601,2619.5 1608,2619 1610,2618 1611,2615.5 1613,2615 1615,2616 1622,2613.5 1625,2609.5 1626,2610.5 1627,2608.5 1630,2610.5 1635,2603.5 1638,2604 1642,2601.5 1646,2594 1647,2593 1649,2594 1652,2592.5 1653,2590.5 1660,2588.5 1664,2585 1668,2580 1669,2579.5 1674,2580.5 1676,2579 1681,2580 1683,2576.5 1686,2576 1688,2577 1691,2575.5 1694,2575 1704,2582.5 1711,2589 1712,2589 1713,2588 1718,2592.5 1723,2592.5 1728,2597.5 1731,2598 1732,2599.5 1736,2601.5 1737,2600.5 1739,2599.5 1740,2601.5 1741,2600.5 1743,2602.5 1745,2601 1746,2602.5 1747,2602.5 1748,2601 1749,2602 1750,2601 1752,2598.5 1753,2600.5 1757,2601.5 1759,2599.5 1760,2600.5 1763,2598.5 1764,2599.5 1765,2598 1767,2599 1773,2596.5 1775,2595.5 1777,2592 1779,2591.5 1780,2589.5 1782,2590.5 1787,2585 1788,2585 1791,2581 1793,2576 1799,2570 1808,2547.5 1824,2486 1830,2471 1832,2468.5 1834,2468 1837,2471 1841,2487 1852,2556.5 1856,2573.5 1859,2581.5 1862,2583 1864,2581.5 1866,2576 1873,2543.5 1885,2475 1888,2464.5 1891,2459.5 1893,2461.5 1895,2466 1899,2485 1918,2647 1926,2689.5 1930,2700 1932,2702 1936,2710.5 1940,2713.5 1941,2713.5 1942,2715.5 1947,2719 1949,2718.5 1951,2720 1953,2718.5 1955,2720.5 1961,2720.5 1963,2722.5 1967,2718.5 1968,2718.5 1973,2725 1979,2723 1983,2727 1988,2723 1993,2724 1994,2725 1995,2723.5 1996,2723 1997,2724 1999,2722.5 2000,2723.5 2002,2723.5 2003,2724.5 2005,2724 2006,2725.5 2008,2725 2009,2726 2017,2725 2019,2726 2021,2725.5 2022,2726.5 2037,2719.5 2039,2722 2042,2721.5 2044,2717 2047,2715.5 2048,2713.5 2049,2714.5 2051,2713.5 2052,2711 2053,2711.5 2057,2707.5 2064,2696 2067,2692.5 2069,2692.5 2076,2673 2079,2669 2081,2670 2086,2655.5 2088,2653.5 2090,2649 2095,2645.5 2097,2640.5 2100,2636.5 2103,2636 2104,2634 2106,2632.5 2109,2634 2113,2632.5 2117,2637.5 2118,2638.5 2119,2637.5 2124,2642 2125,2641.5 2130,2650 2131,2650 2133,2653.5 2134,2652 2138,2656.5 2140,2660.5 2142,2661 2145,2664 2150,2665 2152,2667.5 2155,2668.5 2157,2666.5 2159,2666.5 2161,2664.5 2162,2665.5 2165,2662 2166,2662.5 2168,2661.5 2169,2662.5 2171,2662.5 2182,2652.5 2186,2653 2189,2647.5 2191,2646 2195,2650 2198,2648 2199,2648.5 2201,2646 2205,2645.5 2212,2638.5 2217,2628 2220,2624 2227,2602 2239,2551.5 2246,2528.5 2250,2520 2254,2522 2256,2526 2260,2541.5 2266,2583 2276,2676.5 2283,2728 2292,2770.5 2301,2794 2303,2796 2304,2798.5 2307,2800.5 2308,2803.5 2310,2804 2312,2806.5 2313,2806 2315,2809.5 2322,2810 2328,2814 2333,2813 2334,2815.5 2335,2815 2338,2816 2339,2815 2340,2817 2345,2814 2348,2817 2350,2817.5 2351,2816.5 2352,2817.5 2353,2815.5 2356,2817 2357,2816 2358,2817.5 2361,2816.5 2368,2819.5 2370,2818.5 2371,2820 2373,2818 2374,2819 2375,2818.5 2377,2816 2379,2817 2381,2820 2384,2821 2385,2820 2387,2821 2394,2820 2399,2822.5 2401,2820 2405,2818.5 2409,2824 2411,2824 2414,2821 2415,2821.5" fill="none" stroke="#7f00ff" stroke-width="13" stroke-linejoin="round" />
<path d="M1289,2589 1353,2589 1375,2588 1392,2587 1403,2585.5 1412,2583.5 1420,2580 1426,2575.5 1431,2570.5 1435,2564.5 1439,2557 1443,2546.5 1451,2519 1467,2450 1471,2438.5 1473,2435 1475,2433.5 1477,2433.5 1479,2436 1481,2440 1484,2449.5 1488,2466 1499,2522 1505,2549 1512,2573.5 1519,2590.5 1523,2597 1527,2602 1532,2607 1538,2610.5 1545,2613.5 1554,2616.5 1565,2618.5 1575,2619.5 1587,2620 1598,2619 1608,2617 1618,2614 1625,2610.5 1633,2606 1667,2582 1674,2578.5 1681,2577 1688,2577 1696,2579 1704,2583 1726,2596.5 1733,2599.5 1740,2601.5 1748,2602 1757,2600.5 1767,2597 1777,2592.5 1784,2587.5 1790,2582 1795,2576 1800,2567 1804,2557.5 1809,2542.5 1822,2495 1826,2482 1830,2473 1832,2470.5 1834,2469.5 1836,2470 1837,2471.5 1840,2481.5 1843,2498 1851,2550 1855,2569.5 1857,2576 1859,2580 1860,2581 1862,2581 1864,2579 1866,2574.5 1870,2559 1882,2491 1886,2472.5 1889,2463.5 1891,2461 1892,2461 1894,2463 1896,2469.5 1900,2493.5 1913,2609.5 1919,2653.5 1925,2684 1928,2694 1931,2701.5 1935,2709 1939,2713 1945,2717 1953,2720 1966,2722.5 1982,2724 2000,2725 2015,2725 2027,2723 2038,2719.5 2047,2715 2055,2708 2062,2700 2069,2689.5 2089,2652.5 2095,2642.5 2101,2635 2106,2632 2111,2631.5 2116,2634 2122,2639.5 2134,2653.5 2140,2659.5 2147,2664.5 2153,2666 2158,2666 2163,2664.5 2168,2662 2184,2652.5 2190,2650 2201,2647 2205,2645 2208,2642.5 2212,2638 2215,2633.5 2219,2625 2222,2617.5 2229,2594 2240,2549.5 2244,2535 2248,2525 2250,2522 2252,2521 2254,2522 2255,2523.5 2257,2528 2259,2536 2262,2554 2278,2689.5 2285,2738 2288,2754 2292,2770.5 2296,2783 2300,2791.5 2305,2799 2311,2804.5 2319,2809 2330,2813 2344,2815.5 2363,2818 2415,2822" fill="none" stroke="#4800ff" stroke-width="7" stroke-linejoin="round" />
<path d="M1289,2590 1354,2590 1392,2588 1403,2586.5 1412,2584.5 1420,2581 1426,2577 1431,2572 1435,2566 1439,2558 1443,2548 1451,2520.5 1467,2451.5 1470,2442.5 1472,2438 1474,2435.5 1476,2435 1478,2436.5 1480,2439.5 1482,2444.5 1485,2455 1502,2538 1507,2559 1511,2573 1516,2586.5 1521,2596.5 1527,2605 1534,2611 1540,2614.5 1548,2618 1558,2621 1570,2623.5 1597,2627.5 1646,2633 1716,2644 1781,2657.5 1792,2660.5" fill="none" stroke="#40f0c8" stroke-width="8.5" stroke-linejoin="round" />
<path d="M1395,2593 1419,2593.5 1431,2595 1463,2604 1499,2616.5 1510,2619 1560,2624.5 1581,2625.5 1600,2623.5 1608,2621.5 1616,2619 1624,2615.5 1632,2611 1659,2592 1669,2586 1674,2584 1679,2583 1684,2583 1688,2583.5 1696,2587 1704,2592.5 1713,2600.5 1739,2627 1749,2635.5 1758,2641.5 1770,2648.5 1791,2657 1821,2672.5 1854,2687.5 1863,2692.5 1888,2709.5 1897,2715 1922,2726.5 1931,2729.5 1937,2730.5 1976,2732.5" fill="none" stroke="#ffb070" stroke-width="8.5" stroke-linejoin="round" />
<path d="M1539,2623.5 1572,2627.5 1641,2632.5 1678,2637 1692,2637.5 1703,2637.5 1717,2636 1730,2633 1742,2628 1763,2617 1770,2614 1779,2612 1786,2612 1793,2615 1801,2621.5 1809,2630 1828,2652.5 1838,2663.5 1870,2693 1890,2709 1898,2714 1907,2718.5 1924,2727 1929,2728.5 1935,2729.5 2036,2735.5" fill="none" stroke="#ff6000" stroke-width="8.5" stroke-linejoin="round" />
<path d="M1555,2625.5 1576,2628 1645,2633.5 1717,2642.5 1756,2648 1770,2648 1775,2647.5 1779,2646 1785,2642.5 1791,2636 1796,2628 1800,2619 1804,2607.5 1809,2589.5 1822,2534 1826,2519 1829,2510.5 1831,2506.5 1833,2504 1835,2503.5 1836,2503.5 1837,2505 1838,2507.5 1841,2520.5 1844,2540 1854,2616 1858,2641 1861,2656 1864,2667.5 1868,2679.5 1872,2688 1877,2695 1886,2704.5 1896,2711.5 1921,2725 1929,2728 1935,2729.5 1941,2730 2019,2734.5" fill="none" stroke="#2040ff" stroke-width="8.5" stroke-linejoin="round" />
<path d="M1597,2630 1645,2633.5 1717,2643.5 1786,2656 1794,2658.5 1815,2666 1826,2669 1835,2669.5 1839,2668.5 1842,2667.5 1847,2663 1852,2655 1857,2642.5 1861,2628.5 1865,2610 1869,2588 1884,2492.5 1888,2476 1890,2471.5 1892,2470 1893,2470.5 1894,2472 1895,2474.5 1897,2482.5 1899,2494.5 1903,2525.5 1913,2616.5 1920,2666 1923,2681.5 1927,2697 1931,2707.5 1936,2716 1940,2719.5 1946,2723 1953,2725.5 1962,2727.5 1988,2731 2044,2736 2108,2746 2141,2754" fill="none" stroke="#30f0ff" stroke-width="8.5" stroke-linejoin="round" />
<path d="M1805,2666.5 1854,2688 1862,2692.5 1894,2713.5 1926,2727.5 1934,2729.5 1947,2730 1989,2731 2013,2730.5 2025,2729 2036,2726 2045,2722 2053,2716 2060,2708.5 2067,2699 2088,2663 2094,2654 2098,2649.5 2101,2647 2105,2645.5 2108,2645.5 2111,2647 2114,2649.5 2117,2653 2121,2659.5 2127,2671 2147,2713.5 2154,2726 2160,2735 2166,2742.5 2173,2749.5 2181,2755.5 2193,2763 2222,2778.5 2260,2802 2286,2815 2294,2818 2301,2819.5 2331,2822 2409,2824.5" fill="none" stroke="#22ee00" stroke-width="8.5" stroke-linejoin="round" />
<path d="M1837,2680.5 1850,2686 1858,2690 1887,2709.5 1896,2714.5 1922,2726.5 1930,2729 1937,2730 2035,2734 2072,2737.5 2091,2738.5 2102,2737.5 2113,2735.5 2122,2732 2130,2728 2137,2722.5 2145,2715 2169,2686 2176,2678.5 2180,2675.5 2184,2673.5 2188,2672.5 2191,2673 2195,2674.5 2200,2678.5 2205,2684.5 2211,2693.5 2220,2710 2242,2754.5 2249,2767 2256,2778 2263,2787 2270,2795 2278,2802.5 2287,2809.5 2293,2813 2300,2815.5 2327,2820 2356,2822 2415,2824" fill="none" stroke="#a0e040" stroke-width="8.5" stroke-linejoin="round" />
<path d="M1856,2689 1895,2714 1922,2726.5 1932,2729.5 2040,2735 2108,2743.5 2145,2750.5 2166,2753 2181,2753 2186,2752.5 2191,2751 2195,2749.5 2198,2747 2204,2740 2210,2728.5 2215,2714.5 2220,2696.5 2225,2674 2244,2573.5 2249,2556 2252,2550.5 2254,2549.5 2256,2550.5 2258,2555.5 2260,2563.5 2263,2580.5 2278,2701 2285,2747 2288,2762 2292,2778 2296,2789.5 2300,2797.5 2305,2804.5 2311,2809 2319,2813 2330,2816.5 2343,2818.5 2362,2820.5 2415,2823.5" fill="none" stroke="#0099ff" stroke-width="8.5" stroke-linejoin="round" />
<path d="M1289,2591 1417,2594 1424,2594.5 1432,2596 1461,2604 1499,2617.5 1510,2620 1570,2628 1646,2634.5 1713,2644 1728,2646.5 1782,2658 1794,2662 1853,2688 1862,2693 1894,2714 1921,2727 1929,2729.5 1937,2731 2037,2736 2111,2747 2177,2763.5 2191,2768 2219,2779.5 2260,2803.5 2286,2816 2295,2819 2301,2820.5 2332,2823 2415,2825" fill="none" stroke="#ff2000" stroke-width="11" stroke-linejoin="round" />
<path d="M152,3112 155,3112.5 156,3114.5 159,3116.5 163,3114 165,3114.5 166,3113.5 170,3114 172,3112.5 174,3114.5 176,3114 177,3114.5 180,3111.5 181,3113.5 182,3112.5 185,3113 186,3112 187,3114 188,3115 190,3115 191,3117.5 193,3117 195,3118.5 197,3115 198,3116 200,3114.5 205,3113.5 207,3116 209,3115.5 211,3117.5 213,3115.5 216,3116 217,3115 218,3117 220,3115.5 223,3116 225,3118 228,3119.5 232,3115 235,3116 239,3114.5 241,3117 245,3118.5 250,3115 253,3118.5 258,3115 261,3118 264,3117.5 265,3118.5 266,3118 267,3119 272,3117 274,3117.5 275,3116.5 280,3119.5 281,3119 282,3120.5 289,3117.5 291,3119 292,3118 294,3118.5 296,3117.5 297,3118.5 298,3117 299,3117 300,3115.5 301,3116 302,3114.5 309,3119.5 315,3115 317,3116 318,3115 320,3117 325,3118.5 327,3116 330,3114.5 333,3117 335,3116.5 339,3111 344,3111.5 347,3110.5 348,3111.5 349,3111.5 351,3110.5 356,3103 362,3101.5 364,3099.5 370,3086 371,3086.5 375,3078 379,3064.5 382,3061 384,3060.5 388,3052.5 391,3048.5 394,3045.5 396,3045.5 403,3049.5 408,3059.5 411,3063.5 416,3078 430,3108.5 432,3108 433,3110 434,3110 442,3123 444,3124 445,3123.5 448,3124 453,3128 454,3126.5 456,3127 459,3130.5 462,3131 463,3130.5 465,3131.5 467,3131 471,3132.5 473,3131.5 475,3128.5 477,3129.5 481,3130 484,3133 487,3133 488,3131.5 490,3133 492,3133 493,3134 495,3132.5 497,3132.5 499,3134.5 500,3132.5 504,3131 510,3132 512,3130 514,3129.5 519,3132.5 525,3129.5 527,3131.5 528,3129.5 530,3129.5 535,3131 537,3128 539,3127.5 541,3123.5 543,3123 544,3122 546,3122.5 548,3119.5 549,3121.5 551,3120.5 552,3122 554,3121.5 555,3123 557,3122.5 562,3119 565,3120 567,3119.5 569,3117 571,3119 573,3117.5 574,3118.5 575,3117 578,3118.5 579,3117 580,3117.5 583,3115.5 585,3118 590,3115.5 592,3115.5 599,3118.5 600,3117.5 601,3117.5 602,3120.5 606,3120 607,3118 612,3120 613,3119 616,3119.5 621,3121.5 622,3121 625,3123 626,3122 627,3123.5 629,3122.5 634,3124.5 635,3124 639,3125 644,3123.5 647,3124.5 649,3122 652,3120.5 654,3122 656,3121 658,3122 659,3120.5 661,3121 665,3118 668,3114 669,3114.5 670,3114 671,3114.5 673,3114 677,3110.5 679,3111.5 680,3111 683,3108 684,3104.5 685,3104.5 690,3098 692,3097.5 695,3094.5 696,3091 698,3089.5 704,3080.5 708,3071.5 716,3063 717,3063 720,3060.5 721,3061 722,3060 725,3062 727,3065 729,3065.5 734,3081 741,3095.5 743,3097 748,3105.5 751,3103 753,3097.5 755,3098 756,3096 758,3096 764,3080.5 770,3068 773,3064.5 776,3063.5 779,3066.5 783,3075.5 800,3142 812,3172.5 814,3174 818,3174 823,3180 826,3180 827,3181 829,3180.5 831,3181.5 832,3181 837,3183.5 838,3182.5 840,3184 845,3183 846,3184.5 852,3185.5 854,3187.5 859,3180.5 862,3183.5 863,3182.5 865,3184.5 866,3183 868,3184.5 870,3184.5 871,3186.5 875,3185.5 876,3184.5 879,3185.5 880,3185 884,3184.5 888,3186.5 893,3181.5 896,3183.5 899,3182.5 901,3180 903,3180 905,3182.5 906,3182.5 911,3177.5 914,3177.5 918,3176 920,3172 923,3169 931,3165 932,3163.5 935,3162.5 936,3161 937,3161.5 941,3158.5 946,3153 952,3150 954,3146.5 961,3142.5 966,3144 970,3139.5 973,3140.5 974,3139.5 977,3140 982,3144 987,3144 990,3147.5 992,3147.5 994,3146.5 999,3151 1000,3151 1002,3149 1004,3150.5 1005,3149.5 1007,3151 1008,3150.5 1011,3154 1016,3155.5 1018,3158 1024,3152.5 1027,3155 1031,3154.5 1036,3149 1040,3147.5 1041,3148 1046,3146.5 1050,3142 1051,3142.5 1055,3141.5 1056,3138 1058,3137 1060,3134 1063,3133 1070,3127.5 1080,3115.5 1085,3103 1087,3101.5 1089,3102 1095,3094 1098,3088 1101,3087 1108,3093 1111,3098.5 1117,3118 1129,3172.5 1134,3186 1140,3206.5 1142,3208.5 1149,3222.5 1151,3224 1152,3223.5 1157,3228.5 1160,3227.5 1166,3231.5 1168,3228 1169,3227.5 1171,3227.5 1174,3231.5 1175,3230.5 1177,3231 1179,3229 1180,3231 1182,3231.5 1184,3235.5 1186,3234.5 1187,3235.5 1191,3235 1192,3233 1194,3232 1196,3231.5 1197,3233.5 1203,3234.5 1208,3233 1209,3234.5 1210,3234.5 1212,3233 1214,3232.5 1217,3236.5 1220,3236 1221,3234.5 1226,3236 1227,3235 1230,3237.5 1231,3237 1232,3238 1235,3236.5 1240,3237.5 1243,3235 1246,3235.5 1248,3233 1251,3234 1253,3237 1256,3232.5 1258,3233 1260,3236 1262,3236.5 1264,3235.5 1266,3236 1269,3234.5 1272,3236 1273,3235 1274,3236.5 1276,3236.5 1277,3235.5 1278,3236 1279,3234.5 1284,3237.5" fill="none" stroke="#7f00ff" stroke-width="13" stroke-linejoin="round" />
<path d="M152,3112 220,3116.5 255,3117.5 314,3117 329,3116 339,3114.5 345,3112.5 351,3109 356,3105.5 361,3100.5 365,3095 370,3087 384,3059 388,3052 392,3047 394,3045.5 396,3045 398,3045.5 400,3046.5 405,3053 410,3062.5 420,3086 426,3099 432,3109 439,3118 447,3124.5 456,3128.5 467,3131 483,3132.5 503,3132.5 521,3130.5 538,3126.5 568,3117.5 582,3115.5 589,3115 596,3116 622,3121.5 633,3123 646,3122.5 659,3119.5 667,3116.5 675,3112.5 681,3109 687,3104 696,3093.5 714,3066 718,3062 722,3060 724,3060 726,3061 729,3065.5 739,3090.5 743,3098.5 745,3101.5 747,3103 750,3103.5 753,3101.5 757,3096 770,3069 773,3065.5 776,3064 778,3065 779,3066 781,3069 783,3074 787,3088 797,3129.5 802,3147 808,3162 814,3172 818,3176 822,3178.5 827,3181 832,3182.5 848,3184 872,3184.5 884,3184 895,3182.5 905,3180 915,3176 922,3172.5 930,3167 956,3146.5 962,3143 968,3141 974,3140.5 980,3141.5 986,3143.5 1002,3151 1013,3153.5 1019,3153.5 1025,3153 1032,3151 1039,3148.5 1055,3140.5 1061,3136.5 1066,3132.5 1075,3122 1089,3100.5 1094,3093.5 1099,3089.5 1103,3088.5 1106,3090 1108,3092.5 1110,3096.5 1113,3105 1129,3172 1136,3195.5 1140,3205 1144,3212.5 1148,3218.5 1153,3223.5 1158,3226.5 1165,3229.5 1173,3231.5 1184,3232.5 1222,3235 1284,3236.5" fill="none" stroke="#4800ff" stroke-width="7" stroke-linejoin="round" />
<path d="M171,3113.5 223,3117 275,3118 320,3117.5 331,3116.5 340,3115 346,3112.5 352,3109.5 357,3105.5 361,3101 365,3096 370,3087.5 384,3060 388,3053 393,3047.5 395,3046.5 397,3046 399,3047 401,3048.5 406,3055.5 423,3094 428,3104 432,3110.5 436,3116 441,3121.5 446,3125 452,3128.5 464,3132 483,3135 623,3147" fill="none" stroke="#00ff80" stroke-width="8.5" stroke-linejoin="round" />
<path d="M397,3129 418,3133 429,3134 471,3136 497,3135.5 512,3134.5 526,3132 572,3120 581,3119 590,3119.5 597,3121 605,3123.5 636,3137.5 652,3144 679,3151 720,3164.5 757,3176 776,3181" fill="none" stroke="#ffaa00" stroke-width="8.5" stroke-linejoin="round" />
<path d="M499,3138 578,3142 593,3142.5 607,3142 619,3141 631,3138.5 669,3127.5 675,3126.5 680,3127 689,3129.5 699,3134.5 732,3157.5 748,3167 762,3174 777,3179.5 794,3184.5 806,3187 836,3189.5 870,3190" fill="none" stroke="#ff6000" stroke-width="8.5" stroke-linejoin="round" />
<path d="M529,3139.5 644,3147 659,3147 670,3145.5 675,3144 680,3141.5 685,3137.5 689,3133.5 697,3122 710,3098 715,3089.5 720,3084.5 722,3083.5 724,3083.5 727,3086 731,3094.5 743,3135.5 749,3152 755,3163.5 758,3167.5 762,3171.5 767,3175 774,3178 789,3183 799,3185.5 807,3187 831,3189 857,3190" fill="none" stroke="#2040ff" stroke-width="8.5" stroke-linejoin="round" />
<path d="M569,3142.5 671,3150.5 681,3152 702,3157 713,3159.5 721,3160 728,3158.5 733,3156.5 737,3153 741,3148.5 745,3142 752,3126 768,3081.5 771,3075.5 773,3072.5 775,3071 777,3070.5 778,3071 780,3073 784,3082.5 798,3137.5 804,3156.5 807,3164 811,3171.5 815,3176.5 819,3180.5 823,3183 828,3185 841,3187.5 864,3189 908,3190.5 949,3194.5" fill="none" stroke="#30f0ff" stroke-width="8.5" stroke-linejoin="round" />
<path d="M749,3173.5 791,3184.5 804,3187 841,3189 868,3188.5 885,3187.5 901,3184.5 916,3179 929,3172 949,3157 956,3152.5 964,3149.5 971,3149 978,3151.5 985,3156.5 1012,3183 1020,3190 1027,3195 1040,3202.5 1070,3214.5 1095,3224 1119,3231.5 1127,3233.5 1160,3236.5 1191,3237" fill="none" stroke="#22ee00" stroke-width="8.5" stroke-linejoin="round" />
<path d="M805,3187.5 839,3189.5 905,3190 949,3192.5 968,3191.5 982,3189.5 995,3186 1007,3181 1034,3167 1042,3164.5 1049,3164 1053,3164.5 1057,3166.5 1066,3172.5 1074,3180 1097,3204.5 1112,3217.5 1123,3225 1134,3229.5 1152,3234 1169,3235.5 1209,3236.5 1284,3237.5" fill="none" stroke="#a0e040" stroke-width="8.5" stroke-linejoin="round" />
<path d="M800,3186.5 837,3189.5 911,3190.5 978,3195.5 1020,3200 1031,3200 1040,3198.5 1047,3196 1053,3192.5 1059,3187 1064,3181 1069,3173 1074,3163.5 1090,3127 1095,3117 1100,3110 1103,3107.5 1105,3107.5 1107,3108 1109,3110 1113,3118.5 1117,3132 1129,3179.5 1133,3193 1137,3204 1140,3210.5 1144,3217.5 1148,3222.5 1153,3227 1158,3230 1164,3232 1171,3233.5 1182,3234.5 1220,3236.5 1284,3237.5" fill="none" stroke="#0099ff" stroke-width="8.5" stroke-linejoin="round" />
<path d="M152,3113 225,3118 348,3122 383,3126.5 417,3133.5 427,3134.5 538,3140.5 604,3145.5 670,3152 683,3154.5 760,3177 798,3186.5 807,3188 836,3190 910,3191.5 982,3198.5 1052,3211 1097,3225.5 1120,3232.5 1130,3234.5 1167,3237.5 1284,3238" fill="none" stroke="#ff2000" stroke-width="11" stroke-linejoin="round" />
<path d="M1289,3111.5 1292,3111.5 1299,3113.5 1301,3112.5 1303,3113 1304,3111 1305,3112 1307,3110.5 1309,3111.5 1310,3110 1314,3109 1317,3111.5 1319,3111 1320,3113 1325,3109 1328,3110.5 1329,3112.5 1332,3112 1334,3111 1338,3112.5 1341,3111 1342,3109.5 1348,3109 1351,3110 1353,3112.5 1354,3112.5 1357,3114.5 1358,3113 1359,3113.5 1364,3108 1368,3112 1373,3108 1374,3109 1375,3108.5 1380,3111 1384,3109.5 1386,3106.5 1390,3107 1394,3109.5 1397,3107 1398,3107.5 1403,3104.5 1407,3104 1410,3098 1414,3095.5 1415,3096.5 1420,3085.5 1430,3069 1432,3062 1441,3040 1448,3026 1451,3021.5 1457,3019 1459,3020.5 1465,3031 1469,3046 1478,3067 1490,3101.5 1492,3105.5 1494,3106.5 1499,3116 1502,3118 1504,3118 1507,3122.5 1509,3123.5 1512,3121.5 1514,3122.5 1516,3125.5 1519,3126.5 1521,3125.5 1522,3126.5 1524,3126 1525,3126.5 1527,3125 1529,3127 1530,3126 1531,3127 1533,3124.5 1536,3125.5 1538,3128 1539,3127 1544,3126 1546,3127.5 1549,3132 1556,3127.5 1560,3130 1561,3131.5 1567,3126 1568,3127.5 1572,3129.5 1576,3125 1580,3126.5 1585,3126 1588,3124.5 1590,3122 1592,3122 1595,3120.5 1598,3120 1600,3121.5 1602,3120.5 1603,3122 1605,3121.5 1610,3119 1611,3117 1614,3117.5 1615,3116 1617,3116 1619,3114.5 1621,3115.5 1622,3113.5 1623,3114.5 1628,3115.5 1631,3113.5 1632,3114 1633,3113 1634,3113.5 1640,3111.5 1642,3113.5 1649,3113 1651,3114 1652,3113 1654,3113.5 1656,3112 1657,3113 1659,3113 1660,3115 1662,3114 1668,3117 1671,3116 1673,3117 1676,3121 1678,3121 1680,3120 1684,3123 1686,3122 1688,3123.5 1689,3122.5 1691,3124 1694,3123.5 1696,3124.5 1699,3123 1701,3120 1702,3121 1707,3119.5 1712,3121.5 1714,3120 1719,3120.5 1721,3118 1728,3116.5 1730,3114 1733,3114.5 1735,3117 1740,3110 1743,3109 1754,3090 1759,3074.5 1762,3071.5 1764,3066.5 1766,3058 1769,3050.5 1776,3039 1782,3035 1785,3035 1787,3036.5 1797,3068.5 1805,3083 1808,3082.5 1816,3064 1820,3050 1827,3030.5 1831,3025 1835,3023 1837,3025.5 1841,3037.5 1853,3109.5 1864,3159 1867,3168 1869,3170 1874,3178.5 1879,3181.5 1884,3187 1887,3189 1890,3188.5 1891,3189.5 1892,3188 1896,3188 1898,3189.5 1902,3189.5 1905,3192 1912,3189.5 1913,3191 1914,3190.5 1917,3193 1918,3192 1919,3193 1920,3192 1927,3191 1930,3192.5 1931,3192 1933,3192.5 1934,3190.5 1936,3191.5 1938,3191.5 1939,3193 1941,3190 1942,3190.5 1945,3188.5 1946,3189.5 1947,3188 1951,3187 1954,3189.5 1955,3189 1956,3190 1958,3188.5 1959,3186 1960,3187 1961,3184.5 1964,3185.5 1965,3184.5 1966,3185 1971,3183 1977,3179 1978,3177 1980,3177.5 1982,3176.5 1983,3178 1987,3172 1990,3169.5 1992,3170.5 1994,3167.5 1998,3165.5 2000,3166.5 2001,3164 2003,3165.5 2004,3163 2010,3156 2011,3156.5 2012,3155.5 2014,3156.5 2016,3154 2021,3152.5 2024,3149.5 2029,3152 2030,3151.5 2032,3153.5 2034,3153.5 2035,3155 2037,3154 2038,3154.5 2040,3152 2041,3153.5 2043,3152.5 2045,3154.5 2051,3156 2057,3162 2061,3159.5 2063,3161.5 2065,3162.5 2073,3163 2078,3162 2084,3163.5 2087,3161 2091,3160 2092,3161 2095,3158.5 2096,3159 2100,3153.5 2102,3153.5 2104,3155 2105,3154 2110,3147.5 2111,3148.5 2115,3146.5 2118,3141.5 2122,3138 2127,3127.5 2130,3125.5 2131,3123.5 2139,3103 2145,3093 2152,3073 2155,3070.5 2156,3068.5 2159,3067 2163,3068 2164,3069.5 2169,3084 2189,3186 2194,3206.5 2205,3232.5 2208,3233.5 2209,3235 2211,3236.5 2212,3239 2218,3244 2221,3246 2225,3245.5 2229,3248 2230,3246.5 2234,3247 2237,3249 2238,3247.5 2240,3248 2242,3245.5 2243,3247.5 2251,3253.5 2256,3252.5 2258,3254.5 2259,3253.5 2261,3253.5 2263,3251 2264,3251.5 2265,3250.5 2267,3251.5 2269,3254 2274,3251 2276,3252 2281,3251 2288,3254 2293,3250.5 2298,3256.5 2299,3255.5 2302,3255 2306,3256.5 2309,3254.5 2310,3252.5 2313,3252.5 2314,3251.5 2317,3251 2320,3255 2323,3253 2326,3256 2331,3253.5 2332,3255.5 2333,3255 2335,3257 2337,3256.5 2338,3257.5 2339,3257 2341,3258 2350,3252.5 2351,3253.5 2352,3252.5 2356,3253 2360,3256 2365,3255.5 2366,3257 2367,3256 2370,3256.5 2373,3252 2374,3252 2378,3254 2381,3252 2383,3254.5 2384,3254.5 2386,3257.5 2387,3256 2391,3254 2392,3256.5 2394,3256 2395,3257.5 2397,3255.5 2399,3258 2403,3256 2406,3255.5 2411,3252 2412,3253.5 2415,3254.5" fill="none" stroke="#7f00ff" stroke-width="13" stroke-linejoin="round" />
<path d="M1289,3111.5 1341,3111.5 1373,3110.5 1391,3108.5 1398,3106.5 1403,3104.5 1408,3101 1412,3097.5 1416,3092.5 1420,3087 1428,3071.5 1446,3029.5 1451,3022.5 1453,3021 1455,3020.5 1457,3021.5 1459,3023 1464,3031.5 1469,3044 1483,3083 1488,3095 1492,3102.5 1497,3110.5 1502,3116 1507,3120 1514,3123.5 1524,3126.5 1536,3128 1551,3128.5 1566,3128 1586,3124.5 1625,3114 1634,3112.5 1641,3112 1653,3113 1678,3119.5 1690,3121.5 1703,3122 1716,3120.5 1726,3118.5 1733,3115 1739,3111 1745,3104 1750,3096.5 1755,3086.5 1773,3045 1777,3038.5 1781,3034.5 1784,3034.5 1787,3038 1790,3045 1798,3069.5 1801,3076 1803,3078.5 1805,3080 1806,3080.5 1808,3079.5 1811,3076 1814,3069.5 1824,3038.5 1828,3028 1831,3023.5 1833,3022.5 1834,3022.5 1836,3024.5 1837,3026 1841,3039.5 1856,3124 1860,3143 1864,3157.5 1868,3168 1873,3177 1878,3182.5 1885,3187 1891,3189 1898,3190 1919,3191.5 1938,3191.5 1953,3189 1965,3185 1976,3180.5 1986,3174.5 2012,3156.5 2019,3153.5 2026,3151.5 2031,3151.5 2037,3152.5 2059,3159.5 2071,3162 2077,3162 2084,3161 2091,3159.5 2098,3157 2105,3153.5 2111,3149 2117,3143.5 2122,3137 2127,3129.5 2132,3119.5 2146,3087 2151,3077 2156,3070.5 2158,3069 2160,3068.5 2163,3070 2165,3072.5 2167,3076.5 2170,3087 2174,3105.5 2187,3175.5 2191,3193.5 2195,3208 2199,3219.5 2203,3228.5 2208,3236 2213,3240.5 2220,3244.5 2230,3248 2245,3250.5 2261,3252.5 2317,3254.5 2415,3255.5" fill="none" stroke="#4800ff" stroke-width="7" stroke-linejoin="round" />
<path d="M1289,3112 1341,3112 1373,3111 1391,3109 1398,3107.5 1403,3105 1408,3102 1412,3098.5 1416,3093.5 1420,3088 1428,3072.5 1446,3030.5 1451,3023.5 1453,3022 1455,3022 1457,3022.5 1459,3024.5 1464,3032.5 1469,3045 1483,3084.5 1492,3104.5 1496,3111 1501,3117 1506,3121.5 1511,3124.5 1522,3128.5 1537,3131 1643,3141 1706,3150.5" fill="none" stroke="#00ff80" stroke-width="8.5" stroke-linejoin="round" />
<path d="M1442,3120 1465,3125.5 1496,3131.5 1511,3132.5 1541,3133 1561,3132 1580,3129 1594,3126 1620,3119 1630,3117 1639,3116 1647,3117 1654,3119 1663,3122 1697,3139 1715,3146.5 1731,3152 1756,3159.5 1787,3169.5 1845,3192" fill="none" stroke="#ffb070" stroke-width="8.5" stroke-linejoin="round" />
<path d="M1567,3136 1622,3139.5 1666,3141 1686,3139.5 1720,3133.5 1729,3133 1737,3134 1746,3136.5 1756,3141 1799,3169 1815,3178 1829,3185 1848,3192.5 1855,3194.5 1863,3196 1909,3198" fill="none" stroke="#ff6000" stroke-width="8.5" stroke-linejoin="round" />
<path d="M1557,3135.5 1640,3140.5 1685,3146 1705,3148 1720,3148 1729,3146.5 1734,3144 1739,3140 1743,3135.5 1747,3129.5 1755,3113.5 1769,3077 1773,3068 1778,3060 1780,3058.5 1782,3058 1784,3059 1785,3060 1787,3064 1789,3070.5 1802,3128.5 1809,3153.5 1815,3167.5 1819,3173.5 1823,3177.5 1829,3182 1838,3187 1850,3192 1859,3194.5 1890,3197 1937,3199" fill="none" stroke="#2040ff" stroke-width="8.5" stroke-linejoin="round" />
<path d="M1585,3137 1647,3141.5 1716,3151 1768,3159 1776,3159.5 1783,3158 1788,3155 1793,3150 1797,3143.5 1801,3135 1805,3123.5 1809,3110 1822,3056.5 1826,3042.5 1830,3033 1832,3030.5 1834,3029.5 1836,3031 1837,3032.5 1841,3045.5 1845,3066 1855,3124 1862,3155 1865,3165 1869,3174.5 1873,3181.5 1878,3187 1882,3189.5 1887,3191.5 1900,3194.5 1923,3196.5 1968,3199.5 2041,3209.5" fill="none" stroke="#30f0ff" stroke-width="8.5" stroke-linejoin="round" />
<path d="M1794,3172.5 1831,3187 1849,3193 1857,3195 1864,3196 1892,3197 1927,3196.5 1947,3194.5 1963,3190 1972,3186.5 1980,3182.5 2003,3168.5 2011,3164 2019,3161.5 2023,3161.5 2027,3161.5 2034,3164 2042,3169.5 2069,3194.5 2081,3204.5 2093,3212 2106,3218 2125,3225.5 2150,3234.5 2180,3246.5 2198,3252 2212,3254 2257,3256" fill="none" stroke="#22ee00" stroke-width="8.5" stroke-linejoin="round" />
<path d="M1849,3193.5 1857,3195.5 1864,3196.5 1898,3197.5 1961,3198.5 2000,3201.5 2020,3201.5 2033,3200 2047,3196.5 2060,3192 2081,3182 2089,3179 2097,3177 2105,3177 2110,3178 2115,3180.5 2125,3187.5 2137,3198.5 2163,3224.5 2177,3236.5 2189,3244 2203,3250 2210,3251.5 2218,3252.5 2255,3255 2366,3256" fill="none" stroke="#a0e040" stroke-width="8.5" stroke-linejoin="round" />
<path d="M1818,3182 1849,3193.5 1861,3196 1895,3197.5 1964,3199 2035,3206 2071,3210.5 2084,3211 2094,3209.5 2101,3206.5 2108,3202 2114,3195.5 2120,3186 2125,3176 2131,3161 2146,3116 2152,3100 2155,3094 2158,3090 2161,3088 2163,3088 2165,3089 2167,3092.5 2171,3105 2187,3184 2191,3200.5 2195,3214 2199,3225 2203,3233 2208,3240 2213,3244.5 2220,3248 2229,3250.5 2244,3252.5 2260,3254 2311,3255.5 2405,3256" fill="none" stroke="#0099ff" stroke-width="8.5" stroke-linejoin="round" />
<path d="M1289,3112.5 1385,3115 1421,3116.5 1432,3118 1467,3126.5 1498,3132.5 1572,3136.5 1639,3141.5 1709,3151.5 1746,3158.5 1761,3162.5 1789,3171 1830,3187 1849,3194 1856,3195.5 1863,3196.5 1887,3197.5 1965,3200 2039,3209.5 2114,3224.5 2147,3234.5 2184,3249 2198,3252.5 2207,3254 2260,3256.5 2415,3256.5" fill="none" stroke="#ff2000" stroke-width="11" stroke-linejoin="round" />
<text x="173.5" y="2432.3" font-size="47" text-anchor="start" >1%Pt/CeO<tspan font-size="26" dy="12.5">2</tspan><tspan dy="-12.5">-500</tspan></text>
<text x="2021.6" y="2431.0" font-size="47" text-anchor="start" >1%Pt/CeO<tspan font-size="26" dy="12.5">2</tspan><tspan dy="-12.5">-500</tspan><tspan>-H</tspan><tspan font-size="26" dy="12.5">2</tspan></text>
<text x="173.5" y="2915.3" font-size="47" text-anchor="start" >1%Pt/CeO<tspan font-size="26" dy="12.5">2</tspan><tspan dy="-12.5">-600</tspan></text>
<text x="2009.0" y="3014.5" font-size="47" text-anchor="start" >1%Pt/CeO<tspan font-size="26" dy="12.5">2</tspan><tspan dy="-12.5">-600</tspan><tspan>-H</tspan><tspan font-size="26" dy="12.5">2</tspan></text>
<text x="658.9" y="2443.5" font-size="61" text-anchor="start" >Ce<tspan font-size="45" dy="-14">4+</tspan></text>
<text x="1498.8" y="2443.5" font-size="61" text-anchor="start" >Ce<tspan font-size="45" dy="-14">3+</tspan></text>
<line x1="820.0" y1="2422.2" x2="902.2" y2="2422.2" stroke="#30f0ff" stroke-width="9" stroke-linecap="round"/>
<line x1="918.9" y1="2422.2" x2="1001.5" y2="2422.2" stroke="#1a90f0" stroke-width="9" stroke-linecap="round"/>
<line x1="1017.8" y1="2422.2" x2="1100.0" y2="2422.2" stroke="#2040ff" stroke-width="9" stroke-linecap="round"/>
<line x1="1117.2" y1="2422.2" x2="1199.4" y2="2422.2" stroke="#00ff80" stroke-width="9" stroke-linecap="round"/>
<line x1="1215.5" y1="2422.2" x2="1298.3" y2="2422.2" stroke="#22ee00" stroke-width="9" stroke-linecap="round"/>
<line x1="1314.5" y1="2422.2" x2="1397.7" y2="2422.2" stroke="#ffaa00" stroke-width="9" stroke-linecap="round"/>
<line x1="1644.5" y1="2422.2" x2="1724.5" y2="2422.2" stroke="#a0e040" stroke-width="9" stroke-linecap="round"/>
<line x1="1743.5" y1="2422.2" x2="1824.5" y2="2422.2" stroke="#ff6000" stroke-width="9" stroke-linecap="round"/>
<text x="509.9" y="2829.5" font-size="59" text-anchor="start" >Ce<tspan font-size="40" dy="-25.5">3+</tspan><tspan dy="25.5"> 3d</tspan><tspan font-size="41" dy="16">3/2</tspan></text>
<text x="922.6" y="2928.0" font-size="59" text-anchor="start" >Ce<tspan font-size="40" dy="-25.5">3+</tspan><tspan dy="25.5"> 3d</tspan><tspan font-size="41" dy="16">5/2</tspan></text>
<text x="1684.0" y="2813.0" font-size="59" text-anchor="start" >Ce<tspan font-size="40" dy="-25.5">3+</tspan><tspan dy="25.5"> 3d</tspan><tspan font-size="41" dy="16">3/2</tspan></text>
<text x="2089.0" y="2897.0" font-size="59" text-anchor="start" >Ce<tspan font-size="40" dy="-25.5">3+</tspan><tspan dy="25.5"> 3d</tspan><tspan font-size="41" dy="16">5/2</tspan></text>
<rect x="674.2" y="2528.1" width="8.8" height="13.4" fill="#000"/>
<rect x="674.2" y="2563.6" width="8.8" height="13.4" fill="#000"/>
<rect x="674.2" y="2599.1" width="8.8" height="13.4" fill="#000"/>
<rect x="674.2" y="2634.6" width="8.8" height="13.4" fill="#000"/>
<rect x="674.2" y="2670.1" width="8.8" height="13.4" fill="#000"/>
<rect x="674.2" y="2705.6" width="8.8" height="13.4" fill="#000"/>
<rect x="674.2" y="2741.1" width="8.8" height="13.4" fill="#000"/>
<rect x="1045.6" y="2632.0" width="8.8" height="13.4" fill="#000"/>
<rect x="1045.6" y="2667.5" width="8.8" height="13.4" fill="#000"/>
<rect x="1045.6" y="2703.0" width="8.8" height="13.4" fill="#000"/>
<rect x="1045.6" y="2738.5" width="8.8" height="13.4" fill="#000"/>
<rect x="1045.6" y="2774.0" width="8.8" height="13.4" fill="#000"/>
<rect x="1045.6" y="2809.5" width="8.8" height="13.4" fill="#000"/>
<rect x="1045.6" y="2845.0" width="8.8" height="13.0" fill="#000"/>
<rect x="1786.6" y="2510.5" width="8.8" height="13.4" fill="#000"/>
<rect x="1786.6" y="2546.0" width="8.8" height="13.4" fill="#000"/>
<rect x="1786.6" y="2581.5" width="8.8" height="13.4" fill="#000"/>
<rect x="1786.6" y="2617.0" width="8.8" height="13.4" fill="#000"/>
<rect x="1786.6" y="2652.5" width="8.8" height="13.4" fill="#000"/>
<rect x="1786.6" y="2688.0" width="8.8" height="13.4" fill="#000"/>
<rect x="1786.6" y="2723.5" width="8.8" height="13.4" fill="#000"/>
<rect x="2189.4" y="2599.5" width="8.8" height="13.4" fill="#000"/>
<rect x="2189.4" y="2635.0" width="8.8" height="13.4" fill="#000"/>
<rect x="2189.4" y="2670.5" width="8.8" height="13.4" fill="#000"/>
<rect x="2189.4" y="2706.0" width="8.8" height="13.4" fill="#000"/>
<rect x="2189.4" y="2741.5" width="8.8" height="13.4" fill="#000"/>
<rect x="2189.4" y="2777.0" width="8.8" height="13.4" fill="#000"/>
<rect x="2189.4" y="2812.5" width="8.8" height="13.4" fill="#000"/></svg></body></html>
